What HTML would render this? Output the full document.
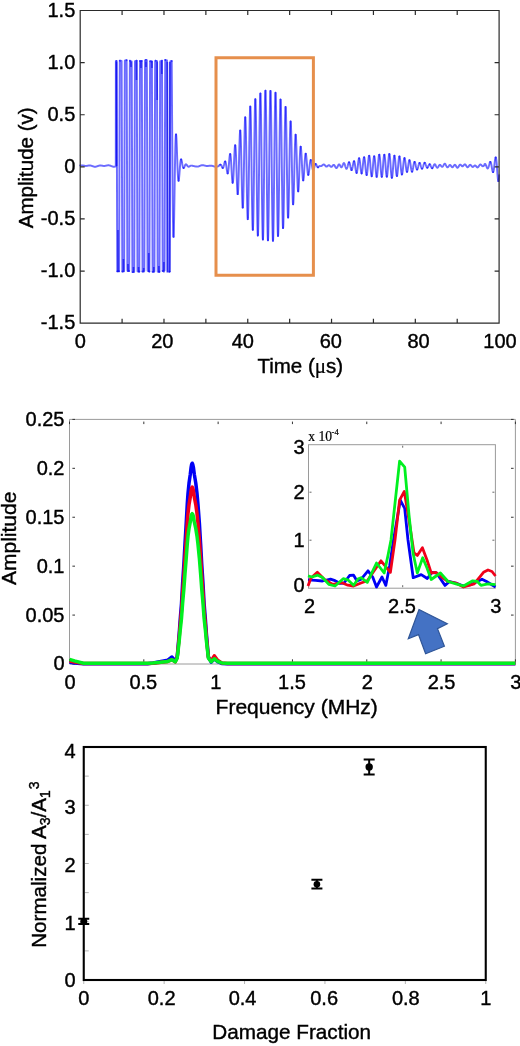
<!DOCTYPE html>
<html lang="en"><head><meta charset="utf-8"><title>Figure</title>
<style>html,body{margin:0;padding:0;background:#fff}svg{display:block}text{font-family:'Liberation Sans', Arial, Helvetica, sans-serif;fill:#000;stroke:#000;stroke-width:.4px}.s{font-family:'Liberation Serif', 'Times New Roman', serif;stroke-width:.2px}</style></head><body>
<svg width="520" height="1046" viewBox="0 0 520 1046">
<rect width="520" height="1046" fill="#fff"/>
<defs><filter id="bl" x="-2%" y="-2%" width="104%" height="104%"><feGaussianBlur stdDeviation="0.3"/></filter></defs>
<g id="p1">
<path d="M80.20 165.56 80.28 165.54 80.37 165.52 80.45 165.50 80.54 165.48 80.62 165.46 80.70 165.44 80.79 165.42 80.87 165.41 80.95 165.40 81.04 165.39 81.12 165.38 81.21 165.37 81.29 165.36 81.37 165.35 81.46 165.35 81.54 165.35 81.62 165.35 81.71 165.35 81.79 165.35 81.88 165.35 81.96 165.35 82.04 165.36 82.13 165.36 82.21 165.37 82.29 165.38 82.38 165.39 82.46 165.40 82.55 165.41 82.63 165.42 82.71 165.44 82.80 165.45 82.88 165.46 82.96 165.48 83.05 165.50 83.13 165.51 83.22 165.53 83.30 165.55 83.38 165.56 83.47 165.58 83.55 165.60 83.63 165.62 83.72 165.64 83.80 165.65 83.89 165.67 83.97 165.69 84.05 165.71 84.14 165.72 84.22 165.74 84.31 165.76 84.39 165.77 84.47 165.79 84.56 165.80 84.64 165.82 84.72 165.83 84.81 165.84 84.89 165.85 84.98 165.86 85.06 165.87 85.14 165.88 85.23 165.89 85.31 165.90 85.39 165.90 85.48 165.91 85.56 165.91 85.65 165.92 85.73 165.92 85.81 165.92 85.90 165.92 85.98 165.92 86.06 165.92 86.15 165.91 86.23 165.91 86.32 165.90 86.40 165.90 86.48 165.89 86.57 165.88 86.65 165.87 86.73 165.86 86.82 165.85 86.90 165.84 86.99 165.83 87.07 165.82 87.15 165.80 87.24 165.79 87.32 165.78 87.41 165.76 87.49 165.75 87.57 165.73 87.66 165.72 87.74 165.70 87.82 165.69 87.91 165.67 87.99 165.66 88.08 165.64 88.16 165.63 88.24 165.61 88.33 165.60 88.41 165.59 88.49 165.57 88.58 165.56 88.66 165.55 88.75 165.54 88.83 165.53 88.91 165.52 89.00 165.51 89.08 165.50 89.16 165.49 89.25 165.49 89.33 165.48 89.42 165.48 89.50 165.47 89.58 165.47 89.67 165.47 89.75 165.47 89.83 165.48 89.92 165.48 90.00 165.48 90.09 165.49 90.17 165.50 90.25 165.51 90.34 165.52 90.42 165.53 90.50 165.54 90.59 165.55 90.67 165.57 90.76 165.59 90.84 165.60 90.92 165.62 91.01 165.64 91.09 165.66 91.18 165.69 91.26 165.71 91.34 165.73 91.43 165.76 91.51 165.79 91.59 165.81 91.68 165.84 91.76 165.87 91.85 165.90 91.93 165.93 92.01 165.96 92.10 165.99 92.18 166.02 92.26 166.05 92.35 166.08 92.43 166.11 92.52 166.15 92.60 166.18 92.68 166.21 92.77 166.24 92.85 166.27 92.93 166.30 93.02 166.33 93.10 166.36 93.19 166.39 93.27 166.42 93.35 166.45 93.44 166.47 93.52 166.50 93.60 166.52 93.69 166.55 93.77 166.57 93.86 166.59 93.94 166.61 94.02 166.63 94.11 166.65 94.19 166.66 94.28 166.68 94.36 166.69 94.44 166.71 94.53 166.72 94.61 166.72 94.69 166.73 94.78 166.74 94.86 166.74 94.95 166.74 95.03 166.75 95.11 166.74 95.20 166.74 95.28 166.74 95.36 166.73 95.45 166.73 95.53 166.72 95.62 166.71 95.70 166.70 95.78 166.68 95.87 166.67 95.95 166.65 96.03 166.63 96.12 166.62 96.20 166.60 96.29 166.57 96.37 166.55 96.45 166.53 96.54 166.50 96.62 166.48 96.70 166.45 96.79 166.43 96.87 166.40 96.96 166.37 97.04 166.34 97.12 166.31 97.21 166.28 97.29 166.25 97.37 166.22 97.46 166.19 97.54 166.16 97.63 166.13 97.71 166.10 97.79 166.07 97.88 166.04 97.96 166.01 98.05 165.98 98.13 165.95 98.21 165.92 98.30 165.89 98.38 165.86 98.46 165.84 98.55 165.81 98.63 165.78 98.72 165.76 98.80 165.74 98.88 165.71 98.97 165.69 99.05 165.67 99.13 165.65 99.22 165.63 99.30 165.62 99.39 165.60 99.47 165.59 99.55 165.57 99.64 165.56 99.72 165.55 99.80 165.54 99.89 165.53 99.97 165.53 100.06 165.52 100.14 165.52 100.22 165.51 100.31 165.51 100.39 165.51 100.47 165.51 100.56 165.51 100.64 165.52 100.73 165.52 100.81 165.53 100.89 165.53 100.98 165.54 101.06 165.55 101.15 165.56 101.23 165.57 101.31 165.58 101.40 165.59 101.48 165.60 101.56 165.61 101.65 165.63 101.73 165.64 101.82 165.65 101.90 165.67 101.98 165.68 102.07 165.70 102.15 165.71 102.23 165.73 102.32 165.74 102.40 165.75 102.49 165.77 102.57 165.78 102.65 165.80 102.74 165.81 102.82 165.82 102.90 165.83 102.99 165.85 103.07 165.86 103.16 165.87 103.24 165.88 103.32 165.89 103.41 165.90 103.49 165.90 103.57 165.91 103.66 165.92 103.74 165.92 103.83 165.92 103.91 165.93 103.99 165.93 104.08 165.93 104.16 165.93 104.24 165.93 104.33 165.93 104.41 165.92 104.50 165.92 104.58 165.91 104.66 165.91 104.75 165.90 104.83 165.89 104.92 165.88 105.00 165.87 105.08 165.86 105.17 165.85 105.25 165.83 105.33 165.82 105.42 165.80 105.50 165.79 105.59 165.77 105.67 165.76 105.75 165.74 105.84 165.72 105.92 165.70 106.00 165.69 106.09 165.67 106.17 165.65 106.26 165.63 106.34 165.61 106.42 165.59 106.51 165.57 106.59 165.55 106.67 165.53 106.76 165.52 106.84 165.50 106.93 165.48 107.01 165.46 107.09 165.45 107.18 165.43 107.26 165.42 107.34 165.40 107.43 165.39 107.51 165.38 107.60 165.36 107.68 165.35 107.76 165.34 107.85 165.34 107.93 165.33 108.01 165.32 108.10 165.32 108.18 165.31 108.27 165.31 108.35 165.31 108.43 165.31 108.52 165.31 108.60 165.32 108.69 165.32 108.77 165.33 108.85 165.33 108.94 165.34 109.02 165.35 109.10 165.37 109.19 165.38 109.27 165.39 109.36 165.41 109.44 165.43 109.52 165.45 109.61 165.47 109.69 165.49 109.77 165.51 109.86 165.53 109.94 165.56 110.03 165.58 110.11 165.61 110.19 165.64 110.28 165.67 110.36 165.70 110.44 165.73 110.53 165.76 110.61 165.79 110.70 165.82 110.78 165.85 110.86 165.89 110.95 165.92 111.03 165.95 111.11 165.99 111.20 166.02 111.28 166.06 111.37 166.09 111.45 166.12 111.53 166.16 111.62 166.19 111.70 166.22 111.79 166.25 111.87 166.29 111.95 166.32 112.04 166.35 112.12 166.38 112.20 166.41 112.29 166.43 112.37 166.46 112.46 166.48 112.54 166.51 112.62 166.53 112.71 166.55 112.79 166.57 112.87 166.59 112.96 166.61 113.04 166.63 113.13 166.64 113.21 166.66 113.29 166.67 113.38 166.68 113.46 166.69 113.54 166.70 113.63 166.70 113.71 166.71 113.80 166.71 113.88 166.71M113.88 166.71 113.96 166.71 114.05 166.71 114.13 166.70 114.21 166.70 114.30 166.69 114.38 166.68 114.47 166.67 114.55 166.66 114.63 166.65 114.72 166.63 114.80 166.62 114.88 166.60 114.97 166.59 115.05 166.57 115.14 166.55 115.22 166.53 115.30 166.51 115.39 166.48 115.47 166.46 115.56 166.44 115.64 166.41 115.72 166.39 115.81 166.36 115.89 61.27 115.97 61.24 116.06 61.21 116.14 61.19 116.23 61.16 116.31 61.13 116.39 61.11 116.48 61.08M117.31 271.38 117.40 271.36 117.48 271.34 117.57 271.32 117.65 271.31 117.73 271.29 117.82 271.27 117.90 271.26 117.98 271.24 118.07 271.23 118.15 271.22 118.24 271.21 118.32 271.20 118.40 271.19 118.49 271.19 118.57 271.18 118.66 271.18 118.74 271.17 118.82 271.17 118.91 271.17 118.99 271.17M119.07 271.17 119.16 249.16 119.24 225.31 119.33 200.82 119.41 175.94 119.49 150.95 119.58 126.13 119.66 101.73 119.74 78.04 119.83 60.67M122.43 271.51 122.51 271.51 122.59 271.51 122.68 271.50 122.76 271.50 122.84 271.49 122.93 271.49 123.01 271.48 123.10 271.47 123.18 271.46 123.26 271.45 123.35 271.44 123.43 271.43 123.51 271.41 123.60 271.40 123.68 271.38 123.77 271.37 123.85 271.35 123.93 271.33 124.02 271.31 124.10 271.29 124.18 254.88 124.27 231.20 124.35 206.82 124.44 181.98 124.52 156.97 124.60 132.05 124.69 107.50 124.77 83.58 124.85 60.55 124.94 60.52 125.02 60.50 125.11 60.47 125.19 60.45 125.27 60.43 125.36 60.40 125.44 60.38 125.52 60.36 125.61 60.34 125.69 60.32 125.78 60.30 125.86 60.28 125.94 60.26 126.03 60.24 126.11 60.22 126.20 60.21 126.28 60.19 126.36 60.18 126.45 60.17 126.53 60.16 126.61 60.15M129.13 271.06 129.21 260.27 129.30 236.85 129.38 212.67 129.46 187.97 129.55 163.03 129.63 138.12 129.71 113.51 129.80 89.47 129.88 66.26 129.97 60.84M132.73 272.10 132.81 272.10 132.90 272.10 132.98 272.09 133.07 272.09 133.15 272.08 133.23 272.07 133.32 272.06 133.40 272.05 133.48 272.04 133.57 272.03 133.65 272.02 133.74 272.00 133.82 271.98 133.90 271.97 133.99 271.95 134.07 271.93 134.15 271.91 134.24 266.57 134.32 243.33 134.41 219.25 134.49 194.60 134.57 169.64 134.66 144.64 134.74 119.88 134.82 95.62 134.91 72.13 134.99 61.14 135.08 61.12 135.16 61.10 135.24 61.08 135.33 61.06 135.41 61.04 135.49 61.01 135.58 60.99 135.66 60.97 135.75 60.95 135.83 60.94 135.91 60.92 136.00 60.90 136.08 60.89 136.17 60.87 136.25 60.86 136.33 60.84 136.42 60.83 136.50 60.82 136.58 60.81 136.67 60.80M139.26 271.51 139.35 248.66 139.43 224.79 139.52 200.29 139.60 175.41 139.68 150.43 139.77 125.62 139.85 101.25 139.94 77.59 140.02 61.06M140.86 61.11 140.94 61.11 141.02 61.11 141.11 61.11 141.19 61.10 141.28 61.10 141.36 61.09 141.44 61.08 141.53 61.07 141.61 61.06 141.69 61.05 141.78 61.04M142.53 271.43 142.62 271.41 142.70 271.38 142.78 271.36 142.87 271.34 142.95 271.31 143.04 271.28 143.12 271.26 143.20 271.23 143.29 271.20 143.37 271.18 143.45 271.15 143.54 271.12 143.62 271.09 143.71 271.06 143.79 271.04 143.87 271.01 143.96 270.98 144.04 270.95 144.12 270.93 144.21 270.90 144.29 270.88 144.38 253.62 144.46 229.91 144.54 205.50 144.63 180.65 144.71 155.64 144.79 130.73 144.88 106.20 144.96 82.31 145.05 60.13 145.13 60.12 145.21 60.10 145.30 60.09 145.38 60.08 145.46 60.07 145.55 60.06 145.63 60.05 145.72 60.04 145.80 60.04 145.88 60.04 145.97 60.03M149.32 271.52 149.40 259.89 149.49 236.44 149.57 212.23 149.65 187.51 149.74 162.56 149.82 137.65 149.90 113.05 149.99 89.03 150.07 65.84 150.16 61.23M151.50 61.41 151.58 61.41 151.66 61.41 151.75 61.41 151.83 61.40M152.67 271.85 152.75 271.83 152.84 271.82 152.92 271.80 153.00 271.78 153.09 271.77 153.17 271.75 153.26 271.73 153.34 271.71 153.42 271.70 153.51 271.68 153.59 271.66 153.68 271.64 153.76 271.63 153.84 271.61 153.93 271.59 154.01 271.57 154.09 271.56 154.18 271.54 154.26 271.53 154.35 271.51 154.43 265.35 154.51 242.08 154.60 217.99 154.68 193.33 154.76 168.37 154.85 143.39 154.93 118.66 155.02 94.44 155.10 70.99 155.18 60.85 155.27 60.85 155.35 60.84 155.43 60.84 155.52 60.84 155.60 60.84 155.69 60.84M159.37 271.83 159.46 271.14 159.54 248.13 159.62 224.22 159.71 199.68 159.79 174.77 159.87 149.78 159.96 124.96 160.04 100.59 160.13 76.94 160.21 61.23 160.29 61.22 160.38 61.21 160.46 61.19 160.55 61.18 160.63 61.16 160.71 61.14 160.80 61.12 160.88 61.10 160.96 61.08 161.05 61.05 161.13 61.03 161.22 61.01 161.30 60.98 161.38 60.95 161.47 60.93 161.55 60.90 161.63 60.87 161.72 60.84 161.80 60.81 161.89 60.78 161.97 60.75M162.72 271.02 162.81 270.99 162.89 270.96 162.97 270.93 163.06 270.90 163.14 270.87 163.23 270.84 163.31 270.82 163.39 270.79 163.48 270.77 163.56 270.75 163.64 270.72 163.73 270.70 163.81 270.68 163.90 270.67 163.98 270.65 164.06 270.63 164.15 270.62 164.23 270.61 164.32 270.60 164.40 270.59 164.48 270.58 164.57 252.50 164.65 228.78 164.73 204.37 164.82 179.53 164.90 154.54 164.99 129.66 165.07 105.17 165.15 81.34 165.24 60.03M169.51 271.75 169.59 259.27 169.68 235.77 169.76 211.51 169.84 186.76 169.93 161.79 170.01 136.86 170.10 112.25 170.18 88.23 170.26 65.05 170.35 61.24 170.43 61.24 170.51 61.24 170.60 61.23 170.68 61.23 170.77 61.22 170.85 61.21 170.93 61.20 171.02 61.19 171.10 61.18 171.19 61.17 171.27 61.16 171.35 61.15 171.44 61.13 171.52 61.12 171.60 61.11 171.69 61.09M173.53 236.80 173.61 236.08 173.70 234.60 173.78 232.43 173.87 229.62 173.95 226.23 174.03 222.35 174.12 218.03 174.20 213.35 174.28 208.38 174.37 203.19 174.45 197.85 174.54 192.42 174.62 186.99 174.70 181.60 174.79 176.31 174.87 171.18 174.96 166.26 175.04 161.60 175.12 157.23 175.21 153.18 175.29 149.50 175.37 146.19 175.46 143.28 175.54 140.77 175.63 138.69 175.71 137.02 175.79 135.77 175.88 134.93 175.96 134.48 176.04 134.42M178.56 180.73 178.64 180.62 178.73 180.35 178.81 179.94 178.89 179.39 178.98 178.73 179.06 177.96 179.14 177.09 179.23 176.15 179.31 175.15 179.40 174.10 179.48 173.01 179.56 171.90 179.65 170.79 179.73 169.67 179.81 168.58 179.90 167.51 179.98 166.49 180.07 165.51 180.15 164.58 180.23 163.72 180.32 162.93 180.40 162.21 180.48 161.58 180.57 161.02 180.65 160.54 180.74 160.15 180.82 159.84 180.90 159.62 180.99 159.47 181.07 159.40M183.58 167.97 183.67 167.96 183.75 167.91 183.84 167.84 183.92 167.74 184.00 167.62 184.09 167.48 184.17 167.32 184.25 167.15 184.34 166.97 184.42 166.77 184.51 166.57 184.59 166.37 184.67 166.17 184.76 165.97 184.84 165.77 184.93 165.58 185.01 165.40 185.09 165.22 185.18 165.06 185.26 164.92 185.34 164.78 185.43 164.67 185.51 164.57 185.60 164.48 185.68 164.42 185.76 164.37 185.85 164.33 185.93 164.32M185.93 164.32 186.01 164.32 186.10 164.34 186.18 164.37 186.27 164.41 186.35 164.47 186.43 164.54 186.52 164.62 186.60 164.71 186.68 164.81 186.77 164.92 186.85 165.03 186.94 165.14 187.02 165.26 187.10 165.38 187.19 165.50 187.27 165.62 187.35 165.73 187.44 165.85 187.52 165.95 187.61 166.06 187.69 166.16 187.77 166.25 187.86 166.33 187.94 166.41 188.02 166.47 188.11 166.53 188.19 166.59 188.28 166.63 188.36 166.66 188.44 166.69 188.53 166.70 188.61 166.71 188.70 166.71 188.78 166.70 188.86 166.69 188.95 166.67 189.03 166.64 189.11 166.61 189.20 166.57 189.28 166.53 189.37 166.49 189.45 166.44 189.53 166.39 189.62 166.34 189.70 166.28 189.78 166.23 189.87 166.17 189.95 166.12 190.04 166.07 190.12 166.02 190.20 165.97 190.29 165.92 190.37 165.88 190.45 165.83 190.54 165.79 190.62 165.76 190.71 165.73 190.79 165.70 190.87 165.67 190.96 165.65 191.04 165.64 191.12 165.62 191.21 165.61 191.29 165.60 191.38 165.60 191.46 165.60 191.54 165.60 191.63 165.61 191.71 165.62 191.79 165.63 191.88 165.64 191.96 165.65 192.05 165.67 192.13 165.69 192.21 165.71 192.30 165.73 192.38 165.75 192.47 165.77 192.55 165.79 192.63 165.81 192.72 165.84 192.80 165.86 192.88 165.88 192.97 165.90 193.05 165.93 193.14 165.95 193.22 165.97 193.30 165.99 193.39 166.01 193.47 166.03 193.55 166.05 193.64 166.07 193.72 166.08 193.81 166.10 193.89 166.12 193.97 166.14 194.06 166.15 194.14 166.17 194.22 166.18 194.31 166.20 194.39 166.21 194.48 166.23 194.56 166.24 194.64 166.26 194.73 166.27 194.81 166.29 194.89 166.30 194.98 166.32 195.06 166.33 195.15 166.35 195.23 166.36 195.31 166.38 195.40 166.39 195.48 166.41 195.57 166.42 195.65 166.44 195.73 166.45 195.82 166.47 195.90 166.48 195.98 166.49 196.07 166.51 196.15 166.52 196.24 166.53 196.32 166.55 196.40 166.56 196.49 166.57 196.57 166.58 196.65 166.59 196.74 166.59 196.82 166.60 196.91 166.61 196.99 166.61 197.07 166.61 197.16 166.62 197.24 166.62 197.32 166.61 197.41 166.61 197.49 166.61 197.58 166.60 197.66 166.59 197.74 166.58 197.83 166.57 197.91 166.56 197.99 166.54 198.08 166.53 198.16 166.51 198.25 166.49 198.33 166.47 198.41 166.44 198.50 166.42 198.58 166.39 198.66 166.37 198.75 166.34 198.83 166.31 198.92 166.28 199.00 166.25 199.08 166.21 199.17 166.18 199.25 166.15 199.34 166.11 199.42 166.08 199.50 166.04 199.59 166.01 199.67 165.97 199.75 165.93 199.84 165.90 199.92 165.86 200.01 165.82 200.09 165.79 200.17 165.75 200.26 165.72 200.34 165.68 200.42 165.65 200.51 165.62 200.59 165.59 200.68 165.55 200.76 165.52 200.84 165.50 200.93 165.47 201.01 165.44 201.09 165.42 201.18 165.39 201.26 165.37 201.35 165.35 201.43 165.33 201.51 165.31 201.60 165.29 201.68 165.28 201.76 165.26 201.85 165.25 201.93 165.24 202.02 165.23 202.10 165.22 202.18 165.22 202.27 165.21 202.35 165.21 202.44 165.21 202.52 165.21 202.60 165.21 202.69 165.21 202.77 165.21 202.85 165.22 202.94 165.23 203.02 165.23 203.11 165.24 203.19 165.25 203.27 165.27 203.36 165.28 203.44 165.29 203.52 165.31 203.61 165.32 203.69 165.34 203.78 165.36 203.86 165.37 203.94 165.39 204.03 165.41 204.11 165.43 204.19 165.45 204.28 165.48 204.36 165.50 204.45 165.52 204.53 165.54 204.61 165.56 204.70 165.58 204.78 165.61 204.86 165.63 204.95 165.65 205.03 165.67 205.12 165.69 205.20 165.71 205.28 165.74 205.37 165.76 205.45 165.78 205.53 165.79 205.62 165.81 205.70 165.83 205.79 165.85 205.87 165.86 205.95 165.88 206.04 165.89 206.12 165.91 206.21 165.92 206.29 165.93 206.37 165.94 206.46 165.95 206.54 165.96 206.62 165.97 206.71 165.98 206.79 165.98 206.88 165.99 206.96 165.99 207.04 165.99 207.13 166.00 207.21 166.00 207.29 166.00 207.38 165.99 207.46 165.99 207.55 165.99 207.63 165.98 207.71 165.98 207.80 165.97 207.88 165.96 207.96 165.96 208.05 165.95 208.13 165.94 208.22 165.93 208.30 165.92 208.38 165.91 208.47 165.89 208.55 165.88 208.63 165.87 208.72 165.86 208.80 165.84 208.89 165.83 208.97 165.82 209.05 165.81 209.14 165.79 209.22 165.78 209.30 165.77 209.39 165.75 209.47 165.74 209.56 165.73 209.64 165.72 209.72 165.71 209.81 165.70 209.89 165.69 209.98 165.68 210.06 165.67 210.14 165.67 210.23 165.66 210.31 165.66 210.39 165.65 210.48 165.65 210.56 165.65 210.65 165.65 210.73 165.65 210.81 165.65 210.90 165.65 210.98 165.65 211.06 165.66 211.15 165.66 211.23 165.67 211.32 165.68 211.40 165.69 211.48 165.70 211.57 165.71 211.65 165.73 211.73 165.74 211.82 165.75 211.90 165.77 211.99 165.79 212.07 165.81 212.15 165.83 212.24 165.85 212.32 165.87 212.40 165.89 212.49 165.92 212.57 165.94 212.66 165.96 212.74 165.99 212.82 166.02 212.91 166.04 212.99 166.07 213.08 166.10 213.16 166.12 213.24 166.15 213.33 166.18 213.41 166.21 213.49 166.23 213.58 166.26 213.66 166.29 213.75 166.32 213.83 166.34 213.91 166.37 214.00 166.40 214.08 166.42 214.16 166.45 214.25 166.47 214.33 166.50 214.42 166.52 214.50 166.54 214.58 166.56 214.67 166.58 214.75 166.60 214.83 166.62 214.92 166.63 215.00 166.65 215.09 166.66 215.17 166.68 215.25 166.69 215.34 166.70 215.42 166.70 215.50 166.71 215.59 166.72 215.67 166.72 215.76 166.72 215.84 166.72 215.92 166.72 216.01 166.72 216.09 166.71 216.17 166.71 216.26 166.70 216.34 166.69 216.43 166.68 216.51 166.67 216.59 166.65 216.68 166.64 216.76 166.62 216.85 166.60 216.93 166.58 217.01 166.56 217.10 166.54 217.18 166.52 217.26 166.49 217.35 166.47 217.43 166.46 217.52 166.45 217.60 166.45 217.68 166.44 217.77 166.43 217.85 166.42 217.93 166.40 218.02 166.38 218.10 166.35 218.19 166.32 218.27 166.28 218.35 166.23 218.44 166.18 218.52 166.12 218.60 166.06 218.69 165.99 218.77 165.91 218.86 165.83 218.94 165.75 219.02 165.66 219.11 165.57 219.19 165.48 219.27 165.39 219.36 165.30 219.44 165.21 219.53 165.12 219.61 165.04 219.69 164.96 219.78 164.89 219.86 164.83 219.95 164.77 220.03 164.72 220.11 164.69 220.20 164.66 220.28 164.65 220.36 164.64M222.79 167.92 222.88 167.90 222.96 167.84 223.04 167.75 223.13 167.63 223.21 167.48 223.30 167.29 223.38 167.08 223.46 166.84 223.55 166.57 223.63 166.28 223.72 165.98 223.80 165.65 223.88 165.31 223.97 164.96 224.05 164.61 224.13 164.25 224.22 163.90 224.30 163.56 224.39 163.23 224.47 162.92 224.55 162.63 224.64 162.36 224.72 162.13 224.80 161.93 224.89 161.77 224.97 161.65 225.06 161.58 225.14 161.55M227.65 173.36 227.74 173.33 227.82 173.22 227.90 173.02 227.99 172.73 228.07 172.34 228.16 171.87 228.24 171.32 228.32 170.68 228.41 169.96 228.49 169.18 228.57 168.33 228.66 167.43 228.74 166.48 228.83 165.50 228.91 164.49 228.99 163.47 229.08 162.45 229.16 161.43 229.24 160.44 229.33 159.48 229.41 158.57 229.50 157.71 229.58 156.92 229.66 156.21 229.75 155.59 229.83 155.06 229.91 154.65 230.00 154.34 230.08 154.16 230.17 154.10M232.68 182.74 232.76 182.70 232.85 182.48 232.93 182.07 233.01 181.47 233.10 180.70 233.18 179.75 233.27 178.63 233.35 177.36 233.43 175.94 233.52 174.38 233.60 172.71 233.68 170.94 233.77 169.08 233.85 167.17 233.94 165.21 234.02 163.23 234.10 161.25 234.19 159.30 234.27 157.39 234.36 155.56 234.44 153.81 234.52 152.18 234.61 150.68 234.69 149.33 234.77 148.15 234.86 147.15 234.94 146.36 235.03 145.78 235.11 145.41 235.19 145.28M237.71 194.09 237.79 193.96 237.87 193.52 237.96 192.76 238.04 191.70 238.13 190.33 238.21 188.68 238.29 186.74 238.38 184.55 238.46 182.11 238.54 179.46 238.63 176.62 238.71 173.61 238.80 170.48 238.88 167.24 238.96 163.95 239.05 160.62 239.13 157.30 239.21 154.03 239.30 150.84 239.38 147.77 239.47 144.86 239.55 142.13 239.63 139.63 239.72 137.38 239.80 135.41 239.88 133.74 239.97 132.41 240.05 131.43 240.14 130.81 240.22 130.57M242.73 207.59 242.82 207.44 242.90 206.84 242.98 205.79 243.07 204.28 243.15 202.33 243.24 199.97 243.32 197.20 243.40 194.06 243.49 190.58 243.57 186.79 243.65 182.73 243.74 178.44 243.82 173.97 243.91 169.37 243.99 164.68 244.07 159.95 244.16 155.25 244.24 150.61 244.33 146.10 244.41 141.75 244.49 137.63 244.58 133.78 244.66 130.24 244.74 127.05 244.83 124.26 244.91 121.90 245.00 120.00 245.08 118.58 245.16 117.71 245.25 117.36M247.76 219.12 247.84 218.96 247.93 218.21 248.01 216.87 248.10 214.97 248.18 212.51 248.26 209.52 248.35 206.03 248.43 202.07 248.51 197.69 248.60 192.93 248.68 187.84 248.77 182.46 248.85 176.87 248.93 171.12 249.02 165.27 249.10 159.39 249.18 153.54 249.27 147.78 249.35 142.17 249.44 136.79 249.52 131.69 249.60 126.93 249.69 122.56 249.77 118.64 249.85 115.20 249.94 112.30 250.02 109.96 250.11 108.21 250.19 107.09 250.27 106.59M252.79 229.83 252.87 229.73 252.95 228.95 253.04 227.48 253.12 225.35 253.21 222.56 253.29 219.15 253.37 215.16 253.46 210.62 253.54 205.58 253.62 200.09 253.71 194.22 253.79 188.02 253.88 181.56 253.96 174.92 254.04 168.15 254.13 161.34 254.21 154.56 254.29 147.89 254.38 141.39 254.46 135.14 254.55 129.20 254.63 123.65 254.71 118.54 254.80 113.94 254.88 109.89 254.97 106.44 255.05 103.63 255.13 101.49 255.22 100.05 255.30 99.33M257.81 235.46 257.90 235.46 257.98 234.70 258.06 233.19 258.15 230.95 258.23 227.98 258.32 224.34 258.40 220.04 258.48 215.15 258.57 209.71 258.65 203.77 258.74 197.41 258.82 190.68 258.90 183.67 258.99 176.45 259.07 169.10 259.15 161.68 259.24 154.30 259.32 147.02 259.41 139.93 259.49 133.11 259.57 126.62 259.66 120.54 259.74 114.94 259.82 109.89 259.91 105.42 259.99 101.61 260.08 98.48 260.16 96.08 260.24 94.44 260.33 93.57 260.41 93.53M262.92 239.46 263.01 238.79 263.09 237.34 263.18 235.10 263.26 232.11 263.34 228.40 263.43 224.00 263.51 218.96 263.59 213.34 263.68 207.20 263.76 200.60 263.85 193.61 263.93 186.31 264.01 178.79 264.10 171.11 264.18 163.37 264.26 155.64 264.35 148.01 264.43 140.57 264.52 133.40 264.60 126.56 264.68 120.15 264.77 114.22 264.85 108.84 264.93 104.08 265.02 99.97 265.10 96.58 265.19 93.93 265.27 92.06 265.35 90.98 265.44 90.73M267.95 240.32 268.03 239.85 268.12 238.57 268.20 236.49 268.29 233.64 268.37 230.05 268.45 225.76 268.54 220.81 268.62 215.26 268.70 209.17 268.79 202.60 268.87 195.63 268.96 188.33 269.04 180.79 269.12 173.07 269.21 165.28 269.29 157.49 269.38 149.78 269.46 142.25 269.54 134.97 269.63 128.03 269.71 121.50 269.79 115.44 269.88 109.94 269.96 105.04 270.05 100.80 270.13 97.27 270.21 94.49 270.30 92.49 270.38 91.28 270.46 90.89M272.98 240.86 273.06 240.51 273.15 239.35 273.23 237.40 273.31 234.69 273.40 231.23 273.48 227.07 273.56 222.26 273.65 216.85 273.73 210.89 273.82 204.46 273.90 197.61 273.98 190.44 274.07 183.01 274.15 175.40 274.23 167.71 274.32 160.00 274.40 152.37 274.49 144.90 274.57 137.67 274.65 130.76 274.74 124.24 274.82 118.18 274.90 112.64 274.99 107.70 275.07 103.39 275.16 99.77 275.24 96.88 275.32 94.74 275.41 93.37 275.49 92.80M278.00 235.92 278.09 235.71 278.17 234.75 278.26 233.04 278.34 230.61 278.42 227.48 278.51 223.70 278.59 219.30 278.67 214.34 278.76 208.87 278.84 202.96 278.93 196.66 279.01 190.05 279.09 183.20 279.18 176.18 279.26 169.08 279.35 161.97 279.43 154.93 279.51 148.04 279.60 141.36 279.68 134.97 279.76 128.94 279.85 123.33 279.93 118.21 280.02 113.62 280.10 109.62 280.18 106.25 280.27 103.53 280.35 101.51 280.43 100.19 280.52 99.59M283.03 228.07 283.12 227.97 283.20 227.19 283.28 225.75 283.37 223.66 283.45 220.95 283.53 217.65 283.62 213.81 283.70 209.45 283.79 204.64 283.87 199.43 283.95 193.87 284.04 188.02 284.12 181.96 284.20 175.75 284.29 169.46 284.37 163.15 284.46 156.89 284.54 150.76 284.62 144.81 284.71 139.12 284.79 133.73 284.87 128.72 284.96 124.12 285.04 119.99 285.13 116.38 285.21 113.31 285.29 110.82 285.38 108.94 285.46 107.67 285.54 107.04M288.14 217.56 288.23 217.00 288.31 215.89 288.39 214.24 288.48 212.09 288.56 209.45 288.64 206.36 288.73 202.85 288.81 198.98 288.90 194.79 288.98 190.32 289.06 185.62 289.15 180.76 289.23 175.78 289.31 170.74 289.40 165.70 289.48 160.71 289.57 155.82 289.65 151.09 289.73 146.57 289.82 142.31 289.90 138.34 289.99 134.72 290.07 131.47 290.15 128.64 290.24 126.24 290.32 124.29 290.40 122.83 290.49 121.84 290.57 121.36M293.08 204.34 293.17 204.34 293.25 203.91 293.34 203.09 293.42 201.87 293.50 200.27 293.59 198.33 293.67 196.06 293.76 193.49 293.84 190.66 293.92 187.59 294.01 184.33 294.09 180.92 294.17 177.38 294.26 173.77 294.34 170.13 294.43 166.48 294.51 162.88 294.59 159.37 294.68 155.97 294.76 152.73 294.84 149.68 294.93 146.85 295.01 144.26 295.10 141.95 295.18 139.94 295.26 138.23 295.35 136.86 295.43 135.82 295.51 135.12 295.60 134.78 295.68 134.77M298.20 191.32 298.28 191.09 298.36 190.60 298.45 189.85 298.53 188.85 298.61 187.63 298.70 186.18 298.78 184.55 298.87 182.74 298.95 180.78 299.03 178.69 299.12 176.50 299.20 174.23 299.28 171.91 299.37 169.57 299.45 167.23 299.54 164.92 299.62 162.66 299.70 160.48 299.79 158.40 299.87 156.44 299.95 154.63 300.04 152.96 300.12 151.48 300.21 150.18 300.29 149.07 300.37 148.18 300.46 147.49 300.54 147.02 300.63 146.77 300.71 146.73M303.22 180.34 303.31 180.21 303.39 179.93 303.47 179.48 303.56 178.89 303.64 178.16 303.73 177.30 303.81 176.33 303.89 175.24 303.98 174.07 304.06 172.82 304.14 171.51 304.23 170.15 304.31 168.76 304.40 167.35 304.48 165.95 304.56 164.56 304.65 163.21 304.73 161.90 304.81 160.65 304.90 159.47 304.98 158.38 305.07 157.38 305.15 156.49 305.23 155.71 305.32 155.05 305.40 154.52 305.48 154.11 305.57 153.84 305.65 153.69 305.74 153.68M308.25 174.85 308.33 174.82 308.42 174.69 308.50 174.47 308.58 174.16 308.67 173.78 308.75 173.31 308.84 172.78 308.92 172.18 309.00 171.53 309.09 170.83 309.17 170.10 309.25 169.34 309.34 168.56 309.42 167.77 309.51 166.98 309.59 166.20 309.67 165.44 309.76 164.70 309.84 164.00 309.92 163.34 310.01 162.72 310.09 162.16 310.18 161.65 310.26 161.21 310.34 160.83 310.43 160.52 310.51 160.29 310.60 160.12 310.68 160.02 310.76 160.00M313.28 170.14 313.36 170.09 313.44 170.00 313.53 169.87 313.61 169.69 313.69 169.48 313.78 169.24 313.86 168.97 313.95 168.68 314.03 168.36 314.11 168.03 314.20 167.69 314.28 167.34 314.37 166.99 314.45 166.65 314.53 166.31 314.62 165.98 314.70 165.67 314.78 165.38 314.87 165.11 314.95 164.86 315.04 164.64 315.12 164.45 315.20 164.29 315.29 164.16 315.37 164.06 315.45 164.00 315.54 163.96 315.62 163.96M317.97 167.28 318.05 167.26 318.14 167.23 318.22 167.19 318.30 167.14 318.39 167.08 318.47 167.01 318.55 166.93 318.64 166.84 318.72 166.76 318.81 166.67 318.89 166.58 318.97 166.49 319.06 166.41 319.14 166.34 319.22 166.27 319.31 166.20 319.39 166.15 319.48 166.10 319.56 166.07 319.64 166.05 319.73 166.03 319.81 166.03 319.89 166.04 319.98 166.06 320.06 166.09 320.15 166.10 320.23 166.11 320.31 166.12 320.40 166.13 320.48 166.14 320.56 166.14 320.65 166.15 320.73 166.15 320.82 166.14 320.90 166.13 320.98 166.12 321.07 166.10 321.15 166.08 321.24 166.06 321.32 166.03 321.40 165.99 321.49 165.95 321.57 165.91 321.65 165.86 321.74 165.80 321.82 165.75 321.91 165.68 321.99 165.62 322.07 165.55 322.16 165.48 322.24 165.41 322.32 165.33 322.41 165.26 322.49 165.18 322.58 165.11 322.66 165.04 322.74 164.97 322.83 164.90 322.91 164.83 322.99 164.77 323.08 164.71 323.16 164.66 323.25 164.62 323.33 164.58 323.41 164.55 323.50 164.52 323.58 164.50 323.66 164.49 323.75 164.49 323.83 164.50 323.92 164.52 324.00 164.54 324.08 164.58 324.17 164.62 324.25 164.67 324.33 164.72 324.42 164.79 324.50 164.86 324.59 164.94 324.67 165.02 324.75 165.11 324.84 165.20 324.92 165.30 325.01 165.39 325.09 165.49 325.17 165.59 325.26 165.69 325.34 165.79 325.42 165.89 325.51 165.98 325.59 166.08 325.68 166.16 325.76 166.24 325.84 166.32 325.93 166.38 326.01 166.44 326.09 166.50 326.18 166.54 326.26 166.57 326.35 166.60 326.43 166.62 326.51 166.62 326.60 166.62 326.68 166.61 326.76 166.59 326.85 166.56 326.93 166.52 327.02 166.48 327.10 166.43 327.18 166.37 327.27 166.30 327.35 166.23 327.43 166.16 327.52 166.08 327.60 166.00 327.69 165.92 327.77 165.84 327.85 165.76 327.94 165.68 328.02 165.61 328.11 165.53 328.19 165.47 328.27 165.40 328.36 165.35 328.44 165.30 328.52 165.26 328.61 165.23 328.69 165.20 328.78 165.19 328.86 165.18 328.94 165.19 329.03 165.20 329.11 165.23 329.19 165.26 329.28 165.30 329.36 165.35 329.45 165.41 329.53 165.47 329.61 165.54 329.70 165.62 329.78 165.70 329.86 165.79 329.95 165.87 330.03 165.97 330.12 166.06 330.20 166.15 330.28 166.24 330.37 166.33 330.45 166.41 330.53 166.49 330.62 166.57 330.70 166.63 330.79 166.70 330.87 166.75 330.95 166.79 331.04 166.83 331.12 166.85 331.20 166.87 331.29 166.88 331.37 166.87 331.46 166.85 331.54 166.83 331.62 166.79 331.71 166.74 331.79 166.69 331.88 166.62 331.96 166.55 332.04 166.47 332.13 166.38 332.21 166.28 332.29 166.18 332.38 166.08 332.46 165.98 332.55 165.87 332.63 165.76 332.71 165.66 332.80 165.55 332.88 165.45 332.96 165.36 333.05 165.27 333.13 165.19 333.22 165.12 333.30 165.05 333.38 165.00 333.47 164.96 333.55 164.93 333.63 164.90 333.72 164.89 333.80 164.90 333.89 164.91 333.97 164.94 334.05 164.99 334.14 165.04 334.22 165.11 334.30 165.19 334.39 165.29 334.47 165.39 334.56 165.51 334.64 165.64 334.72 165.77 334.81 165.91 334.89 166.06 334.97 166.21 335.06 166.36 335.14 166.52 335.23 166.68 335.31 166.83 335.39 166.98 335.48 167.13 335.56 167.27 335.65 167.41 335.73 167.53 335.81 167.64 335.90 167.74 335.98 167.83 336.06 167.91 336.15 167.97 336.23 168.01 336.32 168.04 336.40 168.05 336.48 168.05 336.57 168.03 336.65 167.99 336.73 167.93 336.82 167.86 336.90 167.77 336.99 167.67 337.07 167.55 337.15 167.42 337.24 167.28 337.32 167.13 337.40 166.97 337.49 166.80 337.57 166.63 337.66 166.45 337.74 166.27 337.82 166.09 337.91 165.91 337.99 165.74 338.07 165.57 338.16 165.40 338.24 165.25 338.33 165.10 338.41 164.97 338.49 164.85 338.58 164.74 338.66 164.64 338.75 164.56 338.83 164.50 338.91 164.45 339.00 164.42 339.08 164.41 339.16 164.42 339.25 164.45 339.33 164.49 339.42 164.55 339.50 164.63 339.58 164.72 339.67 164.82 339.75 164.94 339.83 165.07 339.92 165.21 340.00 165.36 340.09 165.52 340.17 165.68 340.25 165.84 340.34 166.01 340.42 166.17 340.50 166.32 340.59 166.48 340.67 166.62 340.76 166.75 340.84 166.88 340.92 166.99 341.01 167.08 341.09 167.16 341.17 167.22 341.26 167.26 341.34 167.29 341.43 167.29 341.51 167.27 341.59 167.23 341.68 167.17 341.76 167.09 341.84 166.99 341.93 166.87 342.01 166.74 342.10 166.58 342.18 166.41 342.26 166.23 342.35 166.04 342.43 165.83 342.52 165.62 342.60 165.40 342.68 165.18 342.77 164.96 342.85 164.74 342.93 164.53 343.02 164.32 343.10 164.12 343.19 163.93 343.27 163.76 343.35 163.60 343.44 163.46 343.52 163.34 343.60 163.24 343.69 163.16 343.77 163.11 343.86 163.08 343.94 163.08 344.02 163.10 344.11 163.15 344.19 163.23 344.27 163.33 344.36 163.46 344.44 163.62 344.53 163.79 344.61 163.99 344.69 164.21 344.78 164.45 344.86 164.71 344.94 164.97 345.03 165.25 345.11 165.54 345.20 165.83 345.28 166.13 345.36 166.42 345.45 166.71 345.53 166.99 345.62 167.26 345.70 167.52 345.78 167.76 345.87 167.99 345.95 168.19 346.03 168.37 346.12 168.52 346.20 168.65 346.29 168.75 346.37 168.81 346.45 168.85 346.54 168.85 346.62 168.82 346.70 168.76 346.79 168.66 346.87 168.54 346.96 168.38 347.04 168.19 347.12 167.98 347.21 167.74 347.29 167.49 347.37 167.21 347.46 166.91 347.54 166.60 347.63 166.28 347.71 165.95 347.79 165.61 347.88 165.28 347.96 164.95 348.04 164.63 348.13 164.32 348.21 164.02 348.30 163.74 348.38 163.48 348.46 163.24 348.55 163.02 348.63 162.83 348.71 162.66 348.80 162.53 348.88 162.43 348.97 162.37 349.05 162.34M351.56 170.06 351.65 170.05 351.73 169.99 351.81 169.88 351.90 169.73 351.98 169.53 352.07 169.29 352.15 169.01 352.23 168.70 352.32 168.35 352.40 167.97 352.49 167.56 352.57 167.13 352.65 166.69 352.74 166.23 352.82 165.76 352.90 165.30 352.99 164.83 353.07 164.38 353.16 163.94 353.24 163.52 353.32 163.12 353.41 162.76 353.49 162.42 353.57 162.13 353.66 161.88 353.74 161.67 353.83 161.52 353.91 161.40 353.99 161.34 354.08 161.34M356.59 172.91 356.67 172.85 356.76 172.73 356.84 172.53 356.93 172.26 357.01 171.92 357.09 171.52 357.18 171.06 357.26 170.54 357.34 169.97 357.43 169.35 357.51 168.69 357.60 168.00 357.68 167.28 357.76 166.54 357.85 165.79 357.93 165.03 358.01 164.28 358.10 163.54 358.18 162.82 358.27 162.13 358.35 161.47 358.43 160.85 358.52 160.29 358.60 159.78 358.68 159.33 358.77 158.96 358.85 158.65 358.94 158.43 359.02 158.30 359.10 158.24M361.62 173.39 361.70 173.35 361.78 173.22 361.87 173.00 361.95 172.71 362.04 172.33 362.12 171.88 362.20 171.35 362.29 170.76 362.37 170.11 362.45 169.41 362.54 168.66 362.62 167.88 362.71 167.06 362.79 166.23 362.87 165.38 362.96 164.54 363.04 163.70 363.13 162.88 363.21 162.08 363.29 161.32 363.38 160.61 363.46 159.94 363.54 159.34 363.63 158.80 363.71 158.34 363.80 157.95 363.88 157.65 363.96 157.43 364.05 157.30 364.13 157.27M366.64 174.95 366.73 174.90 366.81 174.74 366.90 174.49 366.98 174.14 367.06 173.70 367.15 173.17 367.23 172.55 367.31 171.86 367.40 171.10 367.48 170.27 367.57 169.39 367.65 168.47 367.73 167.51 367.82 166.53 367.90 165.53 367.98 164.53 368.07 163.53 368.15 162.56 368.24 161.61 368.32 160.71 368.40 159.85 368.49 159.05 368.57 158.32 368.65 157.67 368.74 157.10 368.82 156.62 368.91 156.25 368.99 155.97 369.07 155.80 369.16 155.73M371.75 176.19 371.84 176.09 371.92 175.88 372.01 175.56 372.09 175.14 372.17 174.62 372.26 174.01 372.34 173.31 372.42 172.53 372.51 171.69 372.59 170.78 372.68 169.83 372.76 168.84 372.84 167.81 372.93 166.77 373.01 165.72 373.09 164.68 373.18 163.66 373.26 162.66 373.35 161.71 373.43 160.80 373.51 159.96 373.60 159.18 373.68 158.48 373.77 157.87 373.85 157.35 373.93 156.94 374.02 156.63 374.10 156.42 374.18 156.33M376.70 176.84 376.78 176.80 376.86 176.65 376.95 176.38 377.03 176.01 377.12 175.52 377.20 174.93 377.28 174.25 377.37 173.47 377.45 172.61 377.54 171.68 377.62 170.68 377.70 169.63 377.79 168.54 377.87 167.42 377.95 166.28 378.04 165.13 378.12 164.00 378.21 162.87 378.29 161.78 378.37 160.73 378.46 159.74 378.54 158.80 378.62 157.95 378.71 157.17 378.79 156.49 378.88 155.90 378.96 155.43 379.04 155.06 379.13 154.81 379.21 154.68 379.29 154.67M381.81 176.74 381.89 176.66 381.98 176.46 382.06 176.14 382.14 175.70 382.23 175.16 382.31 174.52 382.39 173.78 382.48 172.95 382.56 172.05 382.65 171.08 382.73 170.05 382.81 168.97 382.90 167.86 382.98 166.72 383.06 165.58 383.15 164.43 383.23 163.30 383.32 162.20 383.40 161.14 383.48 160.13 383.57 159.18 383.65 158.30 383.73 157.50 383.82 156.79 383.90 156.18 383.99 155.67 384.07 155.27 384.15 154.99 384.24 154.83 384.32 154.78M386.83 176.68 386.92 176.60 387.00 176.40 387.09 176.08 387.17 175.64 387.25 175.10 387.34 174.44 387.42 173.69 387.51 172.85 387.59 171.92 387.67 170.92 387.76 169.86 387.84 168.76 387.92 167.61 388.01 166.44 388.09 165.26 388.18 164.08 388.26 162.91 388.34 161.77 388.43 160.66 388.51 159.61 388.59 158.62 388.68 157.71 388.76 156.88 388.85 156.14 388.93 155.50 389.01 154.98 389.10 154.56 389.18 154.27 389.26 154.10 389.35 154.06M391.86 177.74 391.95 177.70 392.03 177.55 392.11 177.27 392.20 176.88 392.28 176.37 392.36 175.76 392.45 175.04 392.53 174.24 392.62 173.36 392.70 172.40 392.78 171.38 392.87 170.31 392.95 169.20 393.03 168.07 393.12 166.92 393.20 165.77 393.29 164.63 393.37 163.51 393.45 162.43 393.54 161.39 393.62 160.42 393.70 159.51 393.79 158.68 393.87 157.94 393.96 157.29 394.04 156.75 394.12 156.31 394.21 155.98 394.29 155.77 394.38 155.67M396.89 175.96 396.97 175.90 397.06 175.73 397.14 175.46 397.22 175.08 397.31 174.61 397.39 174.04 397.47 173.39 397.56 172.66 397.64 171.86 397.73 170.99 397.81 170.08 397.89 169.12 397.98 168.14 398.06 167.13 398.15 166.11 398.23 165.10 398.31 164.10 398.40 163.12 398.48 162.18 398.56 161.28 398.65 160.43 398.73 159.65 398.82 158.94 398.90 158.31 398.98 157.76 399.07 157.30 399.15 156.94 399.23 156.67 399.32 156.51 399.40 156.45M401.92 174.41 402.00 174.38 402.08 174.26 402.17 174.06 402.25 173.76 402.33 173.38 402.42 172.93 402.50 172.40 402.59 171.80 402.67 171.15 402.75 170.44 402.84 169.68 402.92 168.90 403.00 168.08 403.09 167.24 403.17 166.40 403.26 165.56 403.34 164.72 403.42 163.91 403.51 163.12 403.59 162.36 403.67 161.65 403.76 160.98 403.84 160.37 403.93 159.83 404.01 159.35 404.09 158.94 404.18 158.61 404.26 158.36 404.34 158.19 404.43 158.10 404.51 158.09M407.03 171.83 407.11 171.77 407.19 171.64 407.28 171.44 407.36 171.18 407.44 170.86 407.53 170.48 407.61 170.05 407.70 169.57 407.78 169.06 407.86 168.51 407.95 167.93 408.03 167.33 408.11 166.72 408.20 166.10 408.28 165.48 408.37 164.86 408.45 164.26 408.53 163.69 408.62 163.13 408.70 162.62 408.79 162.14 408.87 161.70 408.95 161.31 409.04 160.98 409.12 160.70 409.20 160.48 409.29 160.32 409.37 160.23 409.46 160.20M412.05 171.63 412.14 171.57 412.22 171.47 412.30 171.31 412.39 171.10 412.47 170.84 412.56 170.54 412.64 170.20 412.72 169.81 412.81 169.40 412.89 168.96 412.97 168.50 413.06 168.02 413.14 167.52 413.23 167.02 413.31 166.52 413.39 166.03 413.48 165.54 413.56 165.07 413.64 164.61 413.73 164.18 413.81 163.78 413.90 163.41 413.98 163.07 414.06 162.78 414.15 162.52 414.23 162.31 414.31 162.14 414.40 162.02 414.48 161.95 414.57 161.92M417.08 169.55 417.16 169.53 417.25 169.47 417.33 169.38 417.41 169.25 417.50 169.08 417.58 168.89 417.67 168.66 417.75 168.40 417.83 168.12 417.92 167.82 418.00 167.50 418.08 167.17 418.17 166.83 418.25 166.48 418.34 166.13 418.42 165.79 418.50 165.44 418.59 165.11 418.67 164.79 418.75 164.49 418.84 164.21 418.92 163.94 419.01 163.71 419.09 163.50 419.17 163.32 419.26 163.18 419.34 163.07 419.43 162.99 419.51 162.94 419.59 162.93M422.02 168.64 422.11 168.63 422.19 168.59 422.27 168.52 422.36 168.42 422.44 168.30 422.53 168.14 422.61 167.96 422.69 167.76 422.78 167.54 422.86 167.30 422.94 167.04 423.03 166.77 423.11 166.49 423.20 166.20 423.28 165.91 423.36 165.62 423.45 165.33 423.53 165.04 423.61 164.76 423.70 164.49 423.78 164.24 423.87 164.00 423.95 163.78 424.03 163.58 424.12 163.40 424.20 163.24 424.28 163.11 424.37 163.00 424.45 162.92 424.54 162.86 424.62 162.84 424.70 162.83M427.30 167.70 427.38 167.69 427.47 167.65 427.55 167.60 427.64 167.52 427.72 167.42 427.80 167.31 427.89 167.18 427.97 167.03 428.05 166.87 428.14 166.70 428.22 166.52 428.31 166.34 428.39 166.15 428.47 165.96 428.56 165.77 428.64 165.58 428.72 165.40 428.81 165.23 428.89 165.06 428.98 164.91 429.06 164.77 429.14 164.64 429.23 164.53 429.31 164.44 429.40 164.37 429.48 164.32 429.56 164.29 429.65 164.28M432.16 168.18 432.24 168.17 432.33 168.13 432.41 168.08 432.49 168.01 432.58 167.91 432.66 167.80 432.75 167.68 432.83 167.54 432.91 167.38 433.00 167.21 433.08 167.04 433.17 166.85 433.25 166.66 433.33 166.46 433.42 166.26 433.50 166.07 433.58 165.87 433.67 165.68 433.75 165.49 433.84 165.31 433.92 165.14 434.00 164.98 434.09 164.84 434.17 164.71 434.25 164.59 434.34 164.49 434.42 164.41 434.51 164.35 434.59 164.30 434.67 164.27 434.76 164.27 434.84 164.28 434.92 164.31 435.01 164.36 435.09 164.42 435.18 164.50 435.26 164.59 435.34 164.71 435.43 164.83 435.51 164.96 435.59 165.11 435.68 165.27 435.76 165.43 435.85 165.60 435.93 165.77 436.01 165.95 436.10 166.12 436.18 166.30 436.26 166.47 436.35 166.63 436.43 166.79 436.52 166.94 436.60 167.08 436.68 167.21 436.77 167.33 436.85 167.43 436.94 167.52 437.02 167.59 437.10 167.65 437.19 167.69 437.27 167.72 437.35 167.72 437.44 167.71 437.52 167.69 437.61 167.64 437.69 167.59 437.77 167.52 437.86 167.43 437.94 167.33 438.02 167.22 438.11 167.10 438.19 166.97 438.28 166.84 438.36 166.70 438.44 166.55 438.53 166.40 438.61 166.25 438.69 166.10 438.78 165.96 438.86 165.81 438.95 165.68 439.03 165.55 439.11 165.42 439.20 165.31 439.28 165.21 439.36 165.11 439.45 165.03 439.53 164.97 439.62 164.91 439.70 164.88 439.78 164.85 439.87 164.84 439.95 164.84 440.04 164.86 440.12 164.88 440.20 164.92 440.29 164.97 440.37 165.04 440.45 165.11 440.54 165.19 440.62 165.28 440.71 165.38 440.79 165.48 440.87 165.59 440.96 165.70 441.04 165.82 441.12 165.93 441.21 166.04 441.29 166.15 441.38 166.26 441.46 166.36 441.54 166.45 441.63 166.54 441.71 166.62 441.79 166.68 441.88 166.73 441.96 166.78 442.05 166.80 442.13 166.82 442.21 166.82 442.30 166.81 442.38 166.78 442.46 166.74 442.55 166.68 442.63 166.61 442.72 166.53 442.80 166.44 442.88 166.33 442.97 166.21 443.05 166.08 443.13 165.95 443.22 165.81 443.30 165.66 443.39 165.51 443.47 165.36 443.55 165.20 443.64 165.05 443.72 164.89 443.81 164.75 443.89 164.60 443.97 164.47 444.06 164.34 444.14 164.22 444.22 164.11 444.31 164.02 444.39 163.94 444.48 163.87 444.56 163.81 444.64 163.78 444.73 163.76 444.81 163.75 444.89 163.76 444.98 163.79 445.06 163.83 445.15 163.89 445.23 163.97 445.31 164.06 445.40 164.16 445.48 164.28 445.56 164.41 445.65 164.55 445.73 164.70 445.82 164.86 445.90 165.02 445.98 165.19 446.07 165.36 446.15 165.53 446.23 165.71 446.32 165.88 446.40 166.04 446.49 166.21 446.57 166.36 446.65 166.51 446.74 166.65 446.82 166.78 446.91 166.89 446.99 167.00 447.07 167.09 447.16 167.16 447.24 167.23 447.32 167.27 447.41 167.30 447.49 167.32 447.58 167.32 447.66 167.30 447.74 167.27 447.83 167.23 447.91 167.17 447.99 167.10 448.08 167.02 448.16 166.93 448.25 166.83 448.33 166.72 448.41 166.60 448.50 166.48 448.58 166.36 448.66 166.23 448.75 166.10 448.83 165.97 448.92 165.85 449.00 165.73 449.08 165.61 449.17 165.50 449.25 165.40 449.33 165.31 449.42 165.22 449.50 165.15 449.59 165.09 449.67 165.04 449.75 165.00 449.84 164.98 449.92 164.97 450.00 164.97 450.09 164.99 450.17 165.02 450.26 165.06 450.34 165.11 450.42 165.18 450.51 165.26 450.59 165.34 450.68 165.44 450.76 165.54 450.84 165.65 450.93 165.77 451.01 165.89 451.09 166.01 451.18 166.13 451.26 166.25 451.35 166.37 451.43 166.49 451.51 166.60 451.60 166.71 451.68 166.81 451.76 166.90 451.85 166.98 451.93 167.05 452.02 167.11 452.10 167.16 452.18 167.20 452.27 167.22 452.35 167.23 452.43 167.23 452.52 167.21 452.60 167.18 452.69 167.14 452.77 167.09 452.85 167.02 452.94 166.94 453.02 166.86 453.10 166.76 453.19 166.66 453.27 166.54 453.36 166.43 453.44 166.30 453.52 166.18 453.61 166.05 453.69 165.92 453.78 165.80 453.86 165.67 453.94 165.55 454.03 165.44 454.11 165.33 454.19 165.23 454.28 165.14 454.36 165.06 454.45 164.99 454.53 164.93 454.61 164.89 454.70 164.86 454.78 164.84 454.86 164.83 454.95 164.84 455.03 164.87 455.12 164.91 455.20 164.96 455.28 165.02 455.37 165.10 455.45 165.19 455.53 165.29 455.62 165.40 455.70 165.52 455.79 165.65 455.87 165.78 455.95 165.92 456.04 166.07 456.12 166.21 456.20 166.36 456.29 166.50 456.37 166.65 456.46 166.79 456.54 166.92 456.62 167.05 456.71 167.17 456.79 167.28 456.87 167.38 456.96 167.47 457.04 167.55 457.13 167.62 457.21 167.67 457.29 167.71 457.38 167.74 457.46 167.74 457.55 167.74 457.63 167.72 457.71 167.69 457.80 167.64 457.88 167.57 457.96 167.50 458.05 167.41 458.13 167.31 458.22 167.20 458.30 167.08 458.38 166.96 458.47 166.82 458.55 166.68 458.63 166.54 458.72 166.39 458.80 166.24 458.89 166.09 458.97 165.95 459.05 165.80 459.14 165.66 459.22 165.53 459.30 165.40 459.39 165.28 459.47 165.17 459.56 165.07 459.64 164.97 459.72 164.89 459.81 164.83 459.89 164.77 459.97 164.73 460.06 164.70 460.14 164.68 460.23 164.67 460.31 164.68 460.39 164.70 460.48 164.73 460.56 164.77 460.64 164.82 460.73 164.88 460.81 164.95 460.90 165.03 460.98 165.11 461.06 165.20 461.15 165.29 461.23 165.38 461.32 165.48 461.40 165.57 461.48 165.67 461.57 165.76 461.65 165.85 461.73 165.93 461.82 166.01 461.90 166.08 461.99 166.14 462.07 166.19 462.15 166.24 462.24 166.27 462.32 166.29 462.40 166.31 462.49 166.31 462.57 166.30 462.66 166.28 462.74 166.25 462.82 166.20 462.91 166.15 462.99 166.09 463.07 166.02 463.16 165.94 463.24 165.85 463.33 165.76 463.41 165.66 463.49 165.56 463.58 165.46 463.66 165.35 463.74 165.25 463.83 165.14 463.91 165.04 464.00 164.94 464.08 164.84 464.16 164.75 464.25 164.67 464.33 164.59 464.42 164.52 464.50 164.47 464.58 164.42 464.67 164.39 464.75 164.36 464.83 164.35 464.92 164.35 465.00 164.36 465.09 164.39 465.17 164.43 465.25 164.48 465.34 164.54 465.42 164.62 465.50 164.70 465.59 164.80 465.67 164.90 465.76 165.02 465.84 165.14 465.92 165.26 466.01 165.40 466.09 165.53 466.17 165.67 466.26 165.81 466.34 165.95 466.43 166.08 466.51 166.22 466.59 166.35 466.68 166.48 466.76 166.59 466.84 166.71 466.93 166.81 467.01 166.90 467.10 166.98 467.18 167.06 467.26 167.12 467.35 167.16 467.43 167.20 467.51 167.22 467.60 167.23 467.68 167.22 467.77 167.20 467.85 167.17 467.93 167.13 468.02 167.08 468.10 167.01 468.19 166.93 468.27 166.85 468.35 166.75 468.44 166.65 468.52 166.54 468.60 166.43 468.69 166.31 468.77 166.19 468.86 166.07 468.94 165.95 469.02 165.83 469.11 165.71 469.19 165.59 469.27 165.48 469.36 165.38 469.44 165.28 469.53 165.19 469.61 165.11 469.69 165.04 469.78 164.98 469.86 164.93 469.94 164.89 470.03 164.86 470.11 164.85 470.20 164.84 470.28 164.85 470.36 164.87 470.45 164.90 470.53 164.94 470.61 165.00 470.70 165.06 470.78 165.13 470.87 165.21 470.95 165.30 471.03 165.39 471.12 165.49 471.20 165.60 471.29 165.70 471.37 165.81 471.45 165.92 471.54 166.03 471.62 166.13 471.70 166.24 471.79 166.34 471.87 166.43 471.96 166.52 472.04 166.60 472.12 166.68 472.21 166.74 472.29 166.80 472.37 166.85 472.46 166.89 472.54 166.92 472.63 166.94 472.71 166.94 472.79 166.94 472.88 166.93 472.96 166.91 473.04 166.88 473.13 166.84 473.21 166.79 473.30 166.73 473.38 166.67 473.46 166.60 473.55 166.53 473.63 166.45 473.71 166.37 473.80 166.29 473.88 166.20 473.97 166.12 474.05 166.04 474.13 165.96 474.22 165.88 474.30 165.81 474.38 165.75 474.47 165.69 474.55 165.63 474.64 165.59 474.72 165.55 474.80 165.53 474.89 165.51 474.97 165.50 475.06 165.50 475.14 165.52 475.22 165.54 475.31 165.57 475.39 165.61 475.47 165.66 475.56 165.72 475.64 165.79 475.73 165.86 475.81 165.94 475.89 166.03 475.98 166.12 476.06 166.22 476.14 166.32 476.23 166.42 476.31 166.52 476.40 166.62 476.48 166.72 476.56 166.82 476.65 166.91 476.73 167.00 476.81 167.08 476.90 167.16 476.98 167.23 477.07 167.29 477.15 167.34 477.23 167.37 477.32 167.40 477.40 167.42 477.48 167.43 477.57 167.42 477.65 167.41 477.74 167.38 477.82 167.34 477.90 167.28 477.99 167.22 478.07 167.15 478.15 167.06 478.24 166.97 478.32 166.87 478.41 166.76 478.49 166.64 478.57 166.52 478.66 166.39 478.74 166.26 478.83 166.13 478.91 166.00 478.99 165.86 479.08 165.73 479.16 165.60 479.24 165.47 479.33 165.35 479.41 165.23 479.50 165.12 479.58 165.01 479.66 164.92 479.75 164.83 479.83 164.75 479.91 164.68 480.00 164.63 480.08 164.58 480.17 164.54 480.25 164.52 480.33 164.51 480.42 164.51 480.50 164.52 480.58 164.54 480.67 164.57 480.75 164.61 480.84 164.66 480.92 164.71 481.00 164.78 481.09 164.85 481.17 164.93 481.25 165.01 481.34 165.10 481.42 165.18 481.51 165.27 481.59 165.37 481.67 165.46 481.76 165.55 481.84 165.63 481.93 165.72 482.01 165.79 482.09 165.87 482.18 165.94 482.26 166.00 482.34 166.05 482.43 166.10 482.51 166.14 482.60 166.17 482.68 166.19 482.76 166.20 482.85 166.20 482.93 166.20 483.01 166.18 483.10 166.16 483.18 166.13 483.27 166.10 483.35 166.05 483.43 166.00 483.52 165.95 483.60 165.89 483.68 165.83 483.77 165.76 483.85 165.69 483.94 165.62 484.02 165.55 484.10 165.48 484.19 165.42 484.27 165.35 484.35 165.29 484.44 165.24 484.52 164.30 484.61 164.21 484.69 164.13 484.77 164.07 484.86 164.03 484.94 164.00 485.02 163.99 485.11 164.00 485.19 164.03 485.28 164.08 485.36 164.14 485.44 164.23 485.53 164.33 485.61 164.46 485.70 164.60 485.78 164.75 485.86 164.92 485.95 165.10 486.03 165.30 486.11 165.50 486.20 165.71 486.28 165.93 486.37 166.15 486.45 166.37 486.53 166.60 486.62 166.82 486.70 167.03 486.78 167.24 486.87 167.44 486.95 167.63 487.04 167.80 487.12 167.95 487.20 168.09 487.29 168.21 487.37 168.31 487.45 168.38 487.54 168.43 487.62 168.45M487.62 168.45 487.71 168.45 487.79 168.42 487.87 168.37 487.96 168.28 488.04 168.17 488.12 168.04 488.21 167.87 488.29 167.69 488.38 167.48 488.46 167.24 488.54 166.99 488.63 166.72 488.71 166.44 488.80 166.14 488.88 165.83 488.96 165.51 489.05 165.19 489.13 164.86 489.21 164.54 489.30 164.23 489.38 163.92 489.47 163.62 489.55 163.33 489.63 163.07 489.72 162.82 489.80 162.60 489.88 162.41 489.97 162.24 490.05 162.11 490.14 162.01 490.22 161.95 490.30 161.92M493.07 172.09 493.15 172.05 493.24 171.94 493.32 171.77 493.40 171.55 493.49 171.26 493.57 170.92 493.65 170.52 493.74 170.07 493.82 169.57 493.91 169.02 493.99 168.43 494.07 167.80 494.16 167.14 494.24 166.45 494.32 165.75 494.41 165.02 494.49 164.30 494.58 163.57 494.66 162.85 494.74 162.14 494.83 161.46 494.91 160.80 494.99 160.19 495.08 159.62 495.16 159.10 495.25 158.64 495.33 158.24 495.41 157.92 495.50 157.67 495.58 157.50 495.67 157.42M498.35 181.08 498.43 181.04 498.51 180.85 498.60 180.50 498.68 180.00 498.76 179.34 498.85 178.52 498.93 177.55 499.02 176.44 499.10 175.18" fill="none" stroke="#0000ff" stroke-opacity="0.58" stroke-width="1.95" stroke-linejoin="round" stroke-linecap="round" filter="url(#bl)"/>
<path d="M116.48 61.08 116.56 62.41 116.64 85.45 116.73 109.37 116.81 133.90 116.90 158.79 116.98 183.75 117.06 208.52 117.15 232.83 117.23 256.41 117.31 271.38M118.99 271.17 119.07 271.17M119.83 60.67 119.91 60.68 120.00 60.69 120.08 60.70 120.16 60.71 120.25 60.72 120.33 60.74 120.41 60.75 120.50 60.76 120.58 60.77 120.67 60.79 120.75 60.80 120.83 60.81 120.92 60.82 121.00 60.84 121.08 60.85 121.17 60.86 121.25 60.87 121.34 60.88 121.42 60.89 121.50 60.90 121.59 60.91 121.67 79.70 121.75 103.46 121.84 127.90 121.92 152.76 122.01 177.76 122.09 202.63 122.17 227.10 122.26 250.91 122.34 271.51 122.43 271.51M126.61 60.15 126.70 73.32 126.78 96.87 126.87 121.16 126.95 145.93 127.03 170.91 127.12 195.83 127.20 220.41 127.28 244.40 127.37 267.53 127.45 270.67 127.54 270.68 127.62 270.69 127.70 270.70 127.79 270.71 127.87 270.72 127.95 270.73 128.04 270.75 128.12 270.77 128.21 270.78 128.29 270.80 128.37 270.82 128.46 270.85 128.54 270.87 128.62 270.89 128.71 270.92 128.79 270.95 128.88 270.97 128.96 271.00 129.04 271.03 129.13 271.06M129.97 60.84 130.05 60.88 130.13 60.91 130.22 60.95 130.30 60.98 130.38 61.02 130.47 61.05 130.55 61.08 130.64 61.11 130.72 61.14 130.80 61.17 130.89 61.20 130.97 61.23 131.05 61.26 131.14 61.29 131.22 61.31 131.31 61.34 131.39 61.36 131.47 61.38 131.56 61.41 131.64 61.43 131.72 69.09 131.81 92.45 131.89 116.60 131.98 141.30 132.06 166.27 132.14 191.24 132.23 215.94 132.31 240.11 132.39 263.47 132.48 272.09 132.56 272.10 132.65 272.10 132.73 272.10M136.67 60.80 136.75 62.96 136.84 86.06 136.92 110.02 137.00 134.59 137.09 159.51 137.17 184.49 137.25 209.27 137.34 233.58 137.42 257.15 137.51 271.31 137.59 271.31 137.67 271.32 137.76 271.32 137.84 271.33 137.92 271.33 138.01 271.34 138.09 271.35 138.18 271.36 138.26 271.36 138.34 271.37 138.43 271.39 138.51 271.40 138.59 271.41 138.68 271.42 138.76 271.43 138.85 271.44 138.93 271.46 139.01 271.47 139.10 271.48 139.18 271.50 139.26 271.51M140.02 61.06 140.10 61.07 140.19 61.08 140.27 61.08 140.35 61.09 140.44 61.10 140.52 61.10 140.61 61.11 140.69 61.11 140.77 61.11 140.86 61.11M141.78 61.04 141.86 80.65 141.95 104.42 142.03 128.86 142.11 153.70 142.20 178.68 142.28 203.51 142.36 227.94 142.45 251.69 142.53 271.43M145.97 60.03 146.05 60.03 146.13 60.04 146.22 60.04 146.30 60.04 146.39 60.05 146.47 60.06 146.55 60.07 146.64 60.08 146.72 60.09 146.81 60.11 146.89 74.14 146.97 97.75 147.06 122.08 147.14 146.89 147.22 171.89 147.31 196.83 147.39 221.43 147.48 245.41 147.56 268.53 147.64 270.88 147.73 270.90 147.81 270.93 147.89 270.96 147.98 270.99 148.06 271.02 148.15 271.06 148.23 271.09 148.31 271.12 148.40 271.15 148.48 271.19 148.56 271.22 148.65 271.25 148.73 271.29 148.82 271.32 148.90 271.35 148.98 271.39 149.07 271.42 149.15 271.45 149.23 271.48 149.32 271.52M150.16 61.23 150.24 61.25 150.32 61.27 150.41 61.29 150.49 61.31 150.58 61.33 150.66 61.34 150.74 61.35 150.83 61.37 150.91 61.38 150.99 61.39 151.08 61.39 151.16 61.40 151.25 61.41 151.33 61.41 151.41 61.41 151.50 61.41M151.83 61.40 151.92 69.87 152.00 93.23 152.08 117.39 152.17 142.08 152.25 167.03 152.33 191.98 152.42 216.64 152.50 240.76 152.59 264.07 152.67 271.85M155.69 60.84 155.77 60.84 155.85 60.84 155.94 60.84 156.02 60.85 156.10 60.85 156.19 60.86 156.27 60.86 156.36 60.87 156.44 60.88 156.52 60.89 156.61 60.90 156.69 60.91 156.77 60.92 156.86 60.94 156.94 63.94 157.03 87.09 157.11 111.10 157.19 135.71 157.28 160.65 157.36 185.65 157.45 210.43 157.53 234.73 157.61 258.29 157.70 271.63 157.78 271.65 157.86 271.66 157.95 271.68 158.03 271.69 158.12 271.70 158.20 271.72 158.28 271.73 158.37 271.74 158.45 271.76 158.53 271.77 158.62 271.78 158.70 271.79 158.79 271.80 158.87 271.81 158.95 271.81 159.04 271.82 159.12 271.83 159.20 271.83 159.29 271.83 159.37 271.83M161.97 60.75 162.05 81.18 162.14 104.97 162.22 129.41 162.30 154.25 162.39 179.21 162.47 204.02 162.56 228.42 162.64 252.13 162.72 271.02M165.24 60.03 165.32 60.04 165.40 60.05 165.49 60.06 165.57 60.07 165.66 60.08 165.74 60.10 165.82 60.12 165.91 60.13 165.99 60.15 166.07 60.18 166.16 60.20 166.24 60.22 166.33 60.24 166.41 60.27 166.49 60.29 166.58 60.32 166.66 60.35 166.74 60.38 166.83 60.41 166.91 60.44 167.00 60.47 167.08 75.35 167.16 99.00 167.25 123.37 167.33 148.20 167.41 173.22 167.50 198.15 167.58 222.74 167.67 246.70 167.75 269.79 167.83 271.32 167.92 271.35 168.00 271.38 168.09 271.41 168.17 271.44 168.25 271.46 168.34 271.49 168.42 271.52 168.50 271.54 168.59 271.56 168.67 271.59 168.76 271.61 168.84 271.63 168.92 271.65 169.01 271.67 169.09 271.69 169.17 271.70 169.26 271.72 169.34 271.73 169.43 271.74 169.51 271.75M171.69 61.09 171.77 72.69 171.86 84.33 171.94 96.28 172.02 108.40 172.11 120.54 172.19 132.56 172.27 144.34 172.36 155.74 172.44 166.68 172.53 177.03 172.61 186.73 172.69 195.68 172.78 203.84 172.86 211.14 172.94 217.56 173.03 223.06 173.11 227.63 173.20 231.27 173.28 233.99 173.36 235.79 173.45 236.72 173.53 236.80M176.04 134.42 176.13 134.72 176.21 135.36 176.30 136.31 176.38 137.56 176.46 139.06 176.55 140.80 176.63 142.73 176.71 144.82 176.80 147.06 176.88 149.39 176.97 151.79 177.05 154.24 177.13 156.69 177.22 159.13 177.30 161.52 177.38 163.84 177.47 166.08 177.55 168.20 177.64 170.19 177.72 172.03 177.80 173.71 177.89 175.23 177.97 176.57 178.06 177.72 178.14 178.69 178.22 179.46 178.31 180.05 178.39 180.46 178.47 180.68 178.56 180.73M181.07 159.40 181.15 159.41 181.24 159.48 181.32 159.62 181.41 159.82 181.49 160.08 181.57 160.38 181.66 160.72 181.74 161.10 181.83 161.51 181.91 161.94 181.99 162.38 182.08 162.84 182.16 163.30 182.24 163.77 182.33 164.22 182.41 164.67 182.50 165.09 182.58 165.50 182.66 165.89 182.75 166.24 182.83 166.57 182.91 166.87 183.00 167.13 183.08 167.35 183.17 167.55 183.25 167.70 183.33 167.82 183.42 167.91 183.50 167.96 183.58 167.97M220.36 164.64 220.45 164.65 220.53 164.67 220.62 164.71 220.70 164.75 220.78 164.81 220.87 164.88 220.95 164.95 221.03 165.03 221.12 165.14 221.20 165.26 221.29 165.40 221.37 165.55 221.45 165.71 221.54 165.89 221.62 166.07 221.70 166.26 221.79 166.45 221.87 166.65 221.96 166.83 222.04 167.02 222.12 167.19 222.21 167.36 222.29 167.50 222.37 167.63 222.46 167.74 222.54 167.83 222.63 167.89 222.71 167.92 222.79 167.92M225.14 161.55 225.22 161.57 225.31 161.64 225.39 161.75 225.47 161.92 225.56 162.14 225.64 162.41 225.73 162.70 225.81 163.03 225.89 163.40 225.98 163.83 226.06 164.30 226.14 164.81 226.23 165.36 226.31 165.93 226.40 166.54 226.48 167.16 226.56 167.79 226.65 168.42 226.73 169.05 226.81 169.67 226.90 170.26 226.98 170.83 227.07 171.35 227.15 171.83 227.23 172.26 227.32 172.62 227.40 172.92 227.49 173.15 227.57 173.29 227.65 173.36M230.17 154.10 230.25 154.17 230.33 154.36 230.42 154.65 230.50 155.08 230.59 155.64 230.67 156.32 230.75 157.14 230.84 158.07 230.92 159.12 231.00 160.27 231.09 161.51 231.17 162.83 231.26 164.22 231.34 165.66 231.42 167.14 231.51 168.64 231.59 170.14 231.67 171.64 231.76 173.10 231.84 174.52 231.93 175.88 232.01 177.15 232.09 178.33 232.18 179.40 232.26 180.34 232.34 181.14 232.43 181.79 232.51 182.28 232.60 182.60 232.68 182.74M235.19 145.28 235.28 145.38 235.36 145.72 235.44 146.25 235.53 147.01 235.61 148.00 235.70 149.22 235.78 150.65 235.86 152.29 235.95 154.13 236.03 156.14 236.11 158.30 236.20 160.60 236.28 163.00 236.37 165.49 236.45 168.03 236.53 170.61 236.62 173.18 236.70 175.73 236.78 178.21 236.87 180.61 236.95 182.90 237.04 185.03 237.12 187.00 237.20 188.77 237.29 190.31 237.37 191.62 237.46 192.67 237.54 193.44 237.62 193.91 237.71 194.09M240.22 130.57 240.30 130.71 240.39 131.23 240.47 132.14 240.55 133.44 240.64 135.10 240.72 137.12 240.81 139.48 240.89 142.16 240.97 145.12 241.06 148.35 241.14 151.81 241.23 155.47 241.31 159.28 241.39 163.20 241.48 167.20 241.56 171.23 241.64 175.25 241.73 179.20 241.81 183.06 241.90 186.77 241.98 190.29 242.06 193.58 242.15 196.60 242.23 199.31 242.31 201.69 242.40 203.70 242.48 205.31 242.57 206.51 242.65 207.27 242.73 207.59M245.25 117.36 245.33 117.54 245.41 118.24 245.50 119.47 245.58 121.21 245.67 123.45 245.75 126.17 245.83 129.35 245.92 132.94 246.00 136.91 246.08 141.23 246.17 145.84 246.25 150.71 246.34 155.77 246.42 160.97 246.50 166.26 246.59 171.58 246.67 176.88 246.75 182.08 246.84 187.14 246.92 192.00 247.01 196.60 247.09 200.90 247.17 204.84 247.26 208.37 247.34 211.46 247.42 214.07 247.51 216.16 247.59 217.71 247.68 218.71 247.76 219.12M250.27 106.59 250.36 106.75 250.44 107.58 250.52 109.06 250.61 111.18 250.69 113.89 250.78 117.19 250.86 121.04 250.94 125.39 251.03 130.20 251.11 135.43 251.19 141.01 251.28 146.89 251.36 153.01 251.45 159.29 251.53 165.68 251.61 172.10 251.70 178.49 251.78 184.76 251.87 190.87 251.95 196.73 252.03 202.28 252.12 207.47 252.20 212.23 252.28 216.51 252.37 220.27 252.45 223.45 252.54 226.02 252.62 227.96 252.70 229.23 252.79 229.83M255.30 99.33 255.38 99.34 255.47 100.08 255.55 101.58 255.64 103.80 255.72 106.69 255.80 110.25 255.89 114.42 255.97 119.17 256.05 124.44 256.14 130.18 256.22 136.33 256.31 142.81 256.39 149.57 256.47 156.52 256.56 163.60 256.64 170.72 256.72 177.81 256.81 184.79 256.89 191.58 256.98 198.11 257.06 204.30 257.14 210.10 257.23 215.43 257.31 220.23 257.39 224.45 257.48 228.05 257.56 230.98 257.65 233.21 257.73 234.71 257.81 235.46M260.41 93.53 260.49 94.28 260.58 95.81 260.66 98.10 260.75 101.13 260.83 104.87 260.91 109.27 261.00 114.30 261.08 119.89 261.16 125.99 261.25 132.52 261.33 139.43 261.42 146.64 261.50 154.06 261.58 161.61 261.67 169.22 261.75 176.81 261.84 184.28 261.92 191.56 262.00 198.57 262.09 205.23 262.17 211.47 262.25 217.23 262.34 222.43 262.42 227.02 262.51 230.95 262.59 234.18 262.67 236.66 262.76 238.39 262.84 239.32 262.92 239.46M265.44 90.73 265.52 91.30 265.61 92.68 265.69 94.84 265.77 97.78 265.86 101.45 265.94 105.82 266.02 110.83 266.11 116.44 266.19 122.58 266.28 129.19 266.36 136.19 266.44 143.52 266.53 151.08 266.61 158.80 266.69 166.59 266.78 174.37 266.86 182.06 266.95 189.57 267.03 196.81 267.11 203.72 267.20 210.21 267.28 216.21 267.36 221.66 267.45 226.51 267.53 230.69 267.62 234.16 267.70 236.88 267.78 238.83 267.87 239.98 267.95 240.32M270.46 90.89 270.55 91.37 270.63 92.65 270.72 94.74 270.80 97.60 270.88 101.20 270.97 105.51 271.05 110.47 271.13 116.04 271.22 122.14 271.30 128.73 271.39 135.71 271.47 143.02 271.55 150.58 271.64 158.30 271.72 166.10 271.80 173.90 271.89 181.61 271.97 189.15 272.06 196.44 272.14 203.39 272.22 209.94 272.31 216.00 272.39 221.53 272.48 226.45 272.56 230.71 272.64 234.27 272.73 237.09 272.81 239.15 272.89 240.41 272.98 240.86M275.49 92.80 275.57 93.02 275.66 94.04 275.74 95.84 275.83 98.44 275.91 101.80 275.99 105.85 276.08 110.53 276.16 115.80 276.25 121.60 276.33 127.87 276.41 134.52 276.50 141.50 276.58 148.72 276.66 156.11 276.75 163.58 276.83 171.05 276.92 178.44 277.00 185.67 277.08 192.67 277.17 199.35 277.25 205.65 277.33 211.49 277.42 216.83 277.50 221.59 277.59 225.74 277.67 229.22 277.75 232.00 277.84 234.06 277.92 235.37 278.00 235.92M280.52 99.59 280.60 99.72 280.69 100.56 280.77 102.11 280.85 104.36 280.94 107.29 281.02 110.84 281.10 114.98 281.19 119.66 281.27 124.82 281.36 130.40 281.44 136.35 281.52 142.59 281.61 149.06 281.69 155.68 281.77 162.39 281.86 169.10 281.94 175.75 282.03 182.27 282.11 188.57 282.19 194.61 282.28 200.30 282.36 205.60 282.44 210.44 282.53 214.77 282.61 218.55 282.70 221.74 282.78 224.31 282.86 226.23 282.95 227.49 283.03 228.07M285.54 107.04 285.63 107.04 285.71 107.67 285.80 108.92 285.88 110.78 285.96 113.22 286.05 116.22 286.13 119.73 286.22 123.76 286.30 128.23 286.38 133.07 286.47 138.21 286.55 143.62 286.63 149.21 286.72 154.94 286.80 160.73 286.89 166.52 286.97 172.26 287.05 177.88 287.14 183.31 287.22 188.51 287.30 193.41 287.39 197.97 287.47 202.14 287.56 205.88 287.64 209.15 287.72 211.91 287.81 214.15 287.89 215.85 287.97 216.99 288.06 217.56 288.14 217.56M290.57 121.36 290.66 121.36 290.74 121.86 290.82 122.83 290.91 124.26 290.99 126.14 291.07 128.44 291.16 131.12 291.24 134.16 291.33 137.53 291.41 141.17 291.49 145.04 291.58 149.11 291.66 153.32 291.74 157.62 291.83 161.97 291.91 166.32 292.00 170.62 292.08 174.83 292.16 178.90 292.25 182.78 292.33 186.44 292.41 189.84 292.50 192.94 292.58 195.72 292.67 198.14 292.75 200.19 292.83 201.85 292.92 203.10 293.00 203.93 293.08 204.34M295.68 134.77 295.77 135.11 295.85 135.78 295.93 136.77 296.02 138.06 296.10 139.64 296.18 141.48 296.27 143.56 296.35 145.86 296.44 148.33 296.52 150.97 296.60 153.71 296.69 156.54 296.77 159.44 296.86 162.37 296.94 165.31 297.02 168.21 297.11 171.05 297.19 173.80 297.27 176.43 297.36 178.91 297.44 181.22 297.53 183.33 297.61 185.23 297.69 186.89 297.78 188.30 297.86 189.45 297.94 190.33 298.03 190.94 298.11 191.27 298.20 191.32M300.71 146.73 300.79 146.91 300.88 147.29 300.96 147.87 301.04 148.63 301.13 149.57 301.21 150.66 301.30 151.90 301.38 153.27 301.46 154.75 301.55 156.32 301.63 157.95 301.71 159.61 301.80 161.32 301.88 163.05 301.97 164.79 302.05 166.51 302.13 168.20 302.22 169.83 302.30 171.40 302.38 172.88 302.47 174.26 302.55 175.52 302.64 176.66 302.72 177.66 302.80 178.51 302.89 179.20 302.97 179.73 303.05 180.10 303.14 180.31 303.22 180.34M305.74 153.68 305.82 153.79 305.90 154.04 305.99 154.40 306.07 154.87 306.15 155.45 306.24 156.13 306.32 156.90 306.41 157.75 306.49 158.65 306.57 159.61 306.66 160.61 306.74 161.65 306.82 162.72 306.91 163.80 306.99 164.88 307.08 165.96 307.16 167.01 307.24 168.04 307.33 169.02 307.41 169.95 307.50 170.82 307.58 171.62 307.66 172.34 307.75 172.98 307.83 173.54 307.91 173.99 308.00 174.36 308.08 174.62 308.17 174.78 308.25 174.85M310.76 160.00 310.85 160.04 310.93 160.15 311.01 160.32 311.10 160.55 311.18 160.83 311.27 161.15 311.35 161.52 311.43 161.93 311.52 162.38 311.60 162.86 311.68 163.37 311.77 163.89 311.85 164.42 311.94 164.96 312.02 165.50 312.10 166.03 312.19 166.55 312.27 167.05 312.35 167.53 312.44 167.97 312.52 168.39 312.61 168.76 312.69 169.10 312.77 169.39 312.86 169.64 312.94 169.84 313.02 169.99 313.11 170.09 313.19 170.14 313.28 170.14M315.62 163.96 315.71 163.98 315.79 164.03 315.87 164.11 315.96 164.21 316.04 164.33 316.12 164.47 316.21 164.62 316.29 164.77 316.38 164.94 316.46 165.11 316.54 165.29 316.63 165.47 316.71 165.66 316.79 165.84 316.88 166.02 316.96 166.20 317.05 166.36 317.13 166.52 317.21 166.66 317.30 166.80 317.38 166.91 317.46 167.02 317.55 167.10 317.63 167.17 317.72 167.22 317.80 167.26 317.88 167.27 317.97 167.28M349.05 162.34 349.13 162.35 349.22 162.41 349.30 162.49 349.39 162.62 349.47 162.79 349.55 162.99 349.64 163.22 349.72 163.49 349.80 163.78 349.89 164.11 349.97 164.45 350.06 164.82 350.14 165.20 350.22 165.59 350.31 165.99 350.39 166.40 350.47 166.80 350.56 167.20 350.64 167.59 350.73 167.96 350.81 168.32 350.89 168.65 350.98 168.95 351.06 169.23 351.14 169.47 351.23 169.67 351.31 169.83 351.40 169.95 351.48 170.03 351.56 170.06M354.08 161.34 354.16 161.39 354.24 161.50 354.33 161.66 354.41 161.88 354.50 162.15 354.58 162.48 354.66 162.85 354.75 163.27 354.83 163.73 354.91 164.23 355.00 164.76 355.08 165.32 355.17 165.90 355.25 166.49 355.33 167.10 355.42 167.70 355.50 168.30 355.58 168.89 355.67 169.47 355.75 170.01 355.84 170.53 355.92 171.01 356.00 171.45 356.09 171.84 356.17 172.17 356.26 172.45 356.34 172.66 356.42 172.81 356.51 172.90 356.59 172.91M359.10 158.24 359.19 158.27 359.27 158.39 359.35 158.58 359.44 158.85 359.52 159.20 359.61 159.61 359.69 160.10 359.77 160.65 359.86 161.26 359.94 161.91 360.03 162.61 360.11 163.35 360.19 164.11 360.28 164.90 360.36 165.69 360.44 166.49 360.53 167.27 360.61 168.05 360.70 168.80 360.78 169.51 360.86 170.19 360.95 170.82 361.03 171.39 361.11 171.90 361.20 172.34 361.28 172.71 361.37 173.01 361.45 173.22 361.53 173.35 361.62 173.39M364.13 157.27 364.21 157.33 364.30 157.48 364.38 157.72 364.47 158.05 364.55 158.46 364.63 158.96 364.72 159.53 364.80 160.18 364.88 160.89 364.97 161.66 365.05 162.47 365.14 163.33 365.22 164.22 365.30 165.13 365.39 166.05 365.47 166.97 365.55 167.88 365.64 168.78 365.72 169.65 365.81 170.48 365.89 171.26 365.97 171.98 366.06 172.65 366.14 173.24 366.22 173.75 366.31 174.17 366.39 174.51 366.48 174.75 366.56 174.90 366.64 174.95M369.16 155.73 369.24 155.78 369.32 155.93 369.41 156.18 369.49 156.54 369.58 157.00 369.66 157.55 369.74 158.19 369.83 158.92 369.91 159.72 370.00 160.58 370.08 161.51 370.16 162.48 370.25 163.49 370.33 164.53 370.41 165.58 370.50 166.64 370.58 167.69 370.67 168.72 370.75 169.72 370.83 170.68 370.92 171.60 371.00 172.45 371.08 173.23 371.17 173.94 371.25 174.56 371.34 175.09 371.42 175.52 371.50 175.85 371.59 176.07 371.67 176.19 371.75 176.19M374.18 156.33 374.27 156.35 374.35 156.48 374.44 156.72 374.52 157.07 374.60 157.52 374.69 158.08 374.77 158.72 374.85 159.45 374.94 160.26 375.02 161.14 375.11 162.08 375.19 163.07 375.27 164.10 375.36 165.16 375.44 166.23 375.52 167.31 375.61 168.38 375.69 169.43 375.78 170.45 375.86 171.43 375.94 172.35 376.03 173.21 376.11 174.00 376.19 174.70 376.28 175.32 376.36 175.84 376.45 176.25 376.53 176.56 376.61 176.75 376.70 176.84M379.29 154.67 379.38 154.78 379.46 155.01 379.55 155.35 379.63 155.80 379.71 156.36 379.80 157.02 379.88 157.78 379.96 158.62 380.05 159.54 380.13 160.52 380.22 161.56 380.30 162.65 380.38 163.77 380.47 164.91 380.55 166.05 380.64 167.20 380.72 168.33 380.80 169.43 380.89 170.49 380.97 171.50 381.05 172.44 381.14 173.31 381.22 174.10 381.31 174.80 381.39 175.40 381.47 175.90 381.56 176.29 381.64 176.56 381.72 176.71 381.81 176.74M384.32 154.78 384.41 154.85 384.49 155.04 384.57 155.34 384.66 155.76 384.74 156.29 384.82 156.92 384.91 157.65 384.99 158.47 385.08 159.37 385.16 160.33 385.24 161.36 385.33 162.43 385.41 163.54 385.49 164.68 385.58 165.83 385.66 166.97 385.75 168.11 385.83 169.21 385.91 170.28 386.00 171.30 386.08 172.26 386.16 173.15 386.25 173.95 386.33 174.67 386.42 175.28 386.50 175.79 386.58 176.19 386.67 176.48 386.75 176.64 386.83 176.68M389.35 154.06 389.43 154.16 389.52 154.39 389.60 154.74 389.68 155.20 389.77 155.79 389.85 156.48 389.93 157.27 390.02 158.15 390.10 159.11 390.19 160.15 390.27 161.25 390.35 162.40 390.44 163.58 390.52 164.79 390.60 166.01 390.69 167.22 390.77 168.43 390.86 169.60 390.94 170.74 391.02 171.82 391.11 172.84 391.19 173.79 391.28 174.66 391.36 175.43 391.44 176.10 391.53 176.66 391.61 177.11 391.69 177.44 391.78 177.65 391.86 177.74M394.38 155.67 394.46 155.69 394.54 155.83 394.63 156.08 394.71 156.46 394.79 156.94 394.88 157.53 394.96 158.20 395.05 158.97 395.13 159.81 395.21 160.71 395.30 161.67 395.38 162.68 395.46 163.72 395.55 164.78 395.63 165.85 395.72 166.92 395.80 167.98 395.88 169.01 395.97 170.00 396.05 170.95 396.13 171.84 396.22 172.66 396.30 173.41 396.39 174.07 396.47 174.64 396.55 175.11 396.64 175.49 396.72 175.75 396.80 175.91 396.89 175.96M399.40 156.45 399.49 156.49 399.57 156.63 399.65 156.87 399.74 157.21 399.82 157.64 399.90 158.16 399.99 158.76 400.07 159.43 400.16 160.17 400.24 160.96 400.32 161.80 400.41 162.68 400.49 163.59 400.57 164.52 400.66 165.45 400.74 166.39 400.83 167.31 400.91 168.21 400.99 169.08 401.08 169.91 401.16 170.69 401.24 171.41 401.33 172.07 401.41 172.66 401.50 173.16 401.58 173.59 401.66 173.93 401.75 174.18 401.83 174.34 401.92 174.41M404.51 158.09 404.60 158.16 404.68 158.31 404.76 158.53 404.85 158.82 404.93 159.19 405.02 159.62 405.10 160.11 405.18 160.65 405.27 161.25 405.35 161.88 405.43 162.54 405.52 163.24 405.60 163.94 405.69 164.66 405.77 165.39 405.85 166.10 405.94 166.80 406.02 167.48 406.10 168.13 406.19 168.75 406.27 169.32 406.36 169.85 406.44 170.32 406.52 170.73 406.61 171.09 406.69 171.37 406.77 171.59 406.86 171.74 406.94 171.82 407.03 171.83M409.46 160.20 409.54 160.23 409.62 160.32 409.71 160.48 409.79 160.69 409.87 160.96 409.96 161.29 410.04 161.67 410.13 162.09 410.21 162.55 410.29 163.05 410.38 163.57 410.46 164.13 410.54 164.70 410.63 165.28 410.71 165.87 410.80 166.45 410.88 167.03 410.96 167.60 411.05 168.15 411.13 168.68 411.21 169.17 411.30 169.63 411.38 170.05 411.47 170.43 411.55 170.76 411.63 171.04 411.72 171.27 411.80 171.44 411.89 171.56 411.97 171.62 412.05 171.63M414.57 161.92 414.65 161.94 414.73 162.00 414.82 162.10 414.90 162.24 414.98 162.42 415.07 162.64 415.15 162.90 415.24 163.18 415.32 163.50 415.40 163.84 415.49 164.20 415.57 164.58 415.66 164.97 415.74 165.37 415.82 165.77 415.91 166.17 415.99 166.56 416.07 166.95 416.16 167.32 416.24 167.67 416.33 168.00 416.41 168.31 416.49 168.59 416.58 168.83 416.66 169.05 416.74 169.22 416.83 169.36 416.91 169.46 417.00 169.53 417.08 169.55M419.59 162.93 419.68 162.95 419.76 163.01 419.84 163.10 419.93 163.22 420.01 163.37 420.10 163.55 420.18 163.76 420.26 163.98 420.35 164.23 420.43 164.50 420.51 164.78 420.60 165.07 420.68 165.37 420.77 165.67 420.85 165.98 420.93 166.28 421.02 166.57 421.10 166.86 421.18 167.13 421.27 167.39 421.35 167.63 421.44 167.85 421.52 168.04 421.60 168.21 421.69 168.36 421.77 168.47 421.85 168.56 421.94 168.61 422.02 168.64M424.70 162.83 424.79 162.85 424.87 162.89 424.95 162.95 425.04 163.04 425.12 163.16 425.21 163.30 425.29 163.45 425.37 163.63 425.46 163.82 425.54 164.03 425.62 164.25 425.71 164.48 425.79 164.72 425.88 164.97 425.96 165.22 426.04 165.46 426.13 165.71 426.21 165.95 426.30 166.18 426.38 166.40 426.46 166.61 426.55 166.81 426.63 166.99 426.71 167.15 426.80 167.30 426.88 167.42 426.97 167.52 427.05 167.60 427.13 167.66 427.22 167.69 427.30 167.70M429.65 164.28 429.73 164.29 429.81 164.33 429.90 164.39 429.98 164.47 430.07 164.56 430.15 164.68 430.23 164.81 430.32 164.96 430.40 165.12 430.48 165.29 430.57 165.48 430.65 165.67 430.74 165.87 430.82 166.07 430.90 166.27 430.99 166.48 431.07 166.68 431.15 166.87 431.24 167.06 431.32 167.24 431.41 167.41 431.49 167.56 431.57 167.70 431.66 167.83 431.74 167.93 431.82 168.02 431.91 168.09 431.99 168.14 432.08 168.17 432.16 168.18M490.30 161.92 490.39 161.93 490.47 161.98 490.55 162.07 490.64 162.20 490.72 162.37 490.81 162.58 490.89 162.82 490.97 163.11 491.06 163.43 491.14 163.78 491.22 164.16 491.31 164.57 491.39 165.00 491.48 165.45 491.56 165.92 491.64 166.40 491.73 166.89 491.81 167.39 491.89 167.88 491.98 168.37 492.06 168.84 492.15 169.30 492.23 169.75 492.31 170.16 492.40 170.55 492.48 170.90 492.57 171.21 492.65 171.49 492.73 171.71 492.82 171.89 492.90 172.01 492.98 172.08 493.07 172.09M495.67 157.42 495.75 157.43 495.83 157.52 495.92 157.71 496.00 158.00 496.08 158.38 496.17 158.85 496.25 159.41 496.34 160.06 496.42 160.79 496.50 161.61 496.59 162.50 496.67 163.45 496.75 164.47 496.84 165.53 496.92 166.64 497.01 167.79 497.09 168.95 497.17 170.12 497.26 171.30 497.34 172.46 497.42 173.59 497.51 174.69 497.59 175.74 497.68 176.73 497.76 177.65 497.84 178.48 497.93 179.21 498.01 179.83 498.09 180.34 498.18 180.73 498.26 180.97 498.35 181.08" fill="none" stroke="#0000ff" stroke-opacity="0.58" stroke-width="1.95" stroke-linejoin="round" stroke-linecap="round" filter="url(#bl)"/>
<path d="M116.6 166V62M136.5 61.5V80M157.2 61.5V100M161.8 61.5V74M167.3 62V272.5M169.8 62V272M118 230V272M123.4 259V272M128 264V272M148.8 253V272M141 61.5V68M146 61.5V67M131 61.5V67M152 61.5V68M133.5 267V272.5M138.6 267V272.5M143.7 268V272.5M153.8 267V272.5M158.9 266V272.5M163.9 262V272.5" fill="none" stroke="#0000e8" stroke-opacity="0.6" stroke-width="1.7" filter="url(#bl)"/>
<rect x="216" y="57.75" width="97.4" height="217.5" fill="none" stroke="#e68f4c" stroke-width="3"/>
<path d="M80.20 10.50H499.10V323.20H80.20ZM122.09 323.20v-4.5M122.09 10.50v4.5M163.98 323.20v-4.5M163.98 10.50v4.5M205.87 323.20v-4.5M205.87 10.50v4.5M247.76 323.20v-4.5M247.76 10.50v4.5M289.65 323.20v-4.5M289.65 10.50v4.5M331.54 323.20v-4.5M331.54 10.50v4.5M373.43 323.20v-4.5M373.43 10.50v4.5M415.32 323.20v-4.5M415.32 10.50v4.5M457.21 323.20v-4.5M457.21 10.50v4.5M80.20 62.62h4.5M499.10 62.62h-4.5M80.20 114.73h4.5M499.10 114.73h-4.5M80.20 166.85h4.5M499.10 166.85h-4.5M80.20 218.97h4.5M499.10 218.97h-4.5M80.20 271.08h4.5M499.10 271.08h-4.5" fill="none" stroke="#2a2a2a" stroke-width="1.2"/>
<text x="75.3" y="16.50" font-size="20" text-anchor="end">1.5</text>
<text x="75.3" y="68.62" font-size="20" text-anchor="end">1.0</text>
<text x="75.3" y="120.73" font-size="20" text-anchor="end">0.5</text>
<text x="75.3" y="172.85" font-size="20" text-anchor="end">0</text>
<text x="75.3" y="224.97" font-size="20" text-anchor="end">-0.5</text>
<text x="75.3" y="277.08" font-size="20" text-anchor="end">-1.0</text>
<text x="75.3" y="329.20" font-size="20" text-anchor="end">-1.5</text>
<text x="80.30" y="347.5" font-size="20" text-anchor="middle">0</text>
<text x="162.30" y="347.5" font-size="20" text-anchor="middle">20</text>
<text x="242.80" y="347.5" font-size="20" text-anchor="middle">40</text>
<text x="330.80" y="347.5" font-size="20" text-anchor="middle">60</text>
<text x="418.50" y="347.5" font-size="20" text-anchor="middle">80</text>
<text x="500.00" y="347.5" font-size="20" text-anchor="middle">100</text>
<text x="300.3" y="372.5" font-size="20.5" text-anchor="middle">Time (<tspan class="s" font-size="21">μ</tspan>s)</text>
<text transform="translate(33.2 167.8) rotate(-90)" font-size="20.5" text-anchor="middle">Amplitude (v)</text>
</g>
<g id="p2">
<path d="M69.50 419.40H515.40V664.00H69.50Z" fill="none" stroke="#9a9a9a" stroke-width="1"/>
<path d="M69.50 661.80v-2.5M69.50 421.60v2.5M143.82 661.80v-2.5M143.82 421.60v2.5M218.13 661.80v-2.5M218.13 421.60v2.5M292.45 661.80v-2.5M292.45 421.60v2.5M366.77 661.80v-2.5M366.77 421.60v2.5M441.08 661.80v-2.5M441.08 421.60v2.5M515.40 661.80v-2.5M515.40 421.60v2.5M72.40 664.00h2.6M513.60 664.00h-2.6M72.40 615.08h2.6M513.60 615.08h-2.6M72.40 566.16h2.6M513.60 566.16h-2.6M72.40 517.24h2.6M513.60 517.24h-2.6M72.40 468.32h2.6M513.60 468.32h-2.6M72.40 419.40h2.6M513.60 419.40h-2.6" fill="none" stroke="#333" stroke-width="1"/>
<polyline points="69.5,662.3 74.5,662.9 83.5,663.8 147.6,663.8 153.0,663.0 167.8,660.2 172.0,657.0 175.2,660.9 177.2,656.8 178.0,647.8 179.2,633.7 180.2,619.7 181.5,603.6 182.6,583.6 183.9,563.5 185.0,543.5 186.2,523.4 187.3,503.4 188.0,493.3 189.0,483.3 190.3,474.3 191.1,467.3 191.6,464.5 192.2,463.2 192.8,464.5 193.4,467.3 194.3,474.3 195.8,483.3 197.0,493.3 197.9,503.4 199.4,523.4 200.6,543.5 201.7,563.5 203.0,583.6 204.1,603.6 205.4,619.7 206.4,633.7 207.6,647.8 208.4,656.8 211.2,662.1 214.3,658.7 217.6,661.6 221.7,663.4 227.6,663.8 515.4,663.8" fill="none" stroke="#0000f5" stroke-width="3.5" stroke-linejoin="round" stroke-linecap="butt"/>
<polyline points="69.5,661.1 74.5,662.1 83.5,663.6 147.6,663.6 153.0,663.2 167.8,661.5 172.0,659.6 175.2,661.9 177.2,657.4 178.0,649.5 179.2,637.1 180.2,624.8 181.5,610.7 182.6,593.0 183.9,575.4 185.0,557.7 186.2,540.1 187.3,522.4 188.0,513.6 189.0,504.8 190.3,496.9 191.1,490.7 191.6,488.2 192.2,487.1 192.8,488.2 193.4,490.7 194.3,496.9 195.8,504.8 197.0,513.6 197.9,522.4 199.4,540.1 200.6,557.7 201.7,575.4 203.0,593.0 204.1,610.7 205.4,624.8 206.4,637.1 207.6,649.5 208.4,657.4 211.2,661.0 214.3,655.8 217.6,660.2 221.7,662.9 227.6,663.6 515.4,663.6" fill="none" stroke="#f0001a" stroke-width="3.5" stroke-linejoin="round" stroke-linecap="butt"/>
<polyline points="69.5,659.3 74.5,660.9 83.5,663.3 147.6,663.3 153.0,662.9 167.8,661.4 172.0,659.7 175.2,661.8 177.2,658.1 178.0,651.3 179.2,640.9 180.2,630.4 181.5,618.4 182.6,603.4 183.9,588.5 185.0,573.5 186.2,558.5 187.3,543.6 188.0,536.1 189.0,528.6 190.3,521.9 191.1,516.6 191.6,514.5 192.2,513.6 192.8,514.5 193.4,516.6 194.3,521.9 195.8,528.6 197.0,536.1 197.9,543.6 199.4,558.5 200.6,573.5 201.7,588.5 203.0,603.4 204.1,618.4 205.4,630.4 206.4,640.9 207.6,651.3 208.4,658.1 211.2,661.8 214.3,658.7 217.6,661.3 221.7,662.9 227.6,663.3 515.4,663.3" fill="none" stroke="#00f020" stroke-width="3.5" stroke-linejoin="round" stroke-linecap="butt"/>
<text x="64.5" y="426.20" font-size="20" text-anchor="end">0.25</text>
<text x="64.5" y="475.12" font-size="20" text-anchor="end">0.2</text>
<text x="64.5" y="524.04" font-size="20" text-anchor="end">0.15</text>
<text x="64.5" y="572.96" font-size="20" text-anchor="end">0.1</text>
<text x="64.5" y="621.88" font-size="20" text-anchor="end">0.05</text>
<text x="64.5" y="670.30" font-size="20" text-anchor="end">0</text>
<text x="70.00" y="689.4" font-size="20" text-anchor="middle">0</text>
<text x="143.32" y="689.4" font-size="20" text-anchor="middle">0.5</text>
<text x="215.93" y="689.4" font-size="20" text-anchor="middle">1</text>
<text x="291.95" y="689.4" font-size="20" text-anchor="middle">1.5</text>
<text x="367.27" y="689.4" font-size="20" text-anchor="middle">2</text>
<text x="441.58" y="689.4" font-size="20" text-anchor="middle">2.5</text>
<text x="515.90" y="689.4" font-size="20" text-anchor="middle">3</text>
<text x="296.7" y="714" font-size="21" text-anchor="middle">Frequency (MHz)</text>
<text transform="translate(16.2 538.3) rotate(-90)" font-size="21" text-anchor="middle">Amplitude</text>
<rect x="308.50" y="444.70" width="186.90" height="143.50" fill="#fff" stroke="#9a9a9a" stroke-width="1"/>
<polyline points="308.0,579.8 315.5,580.4 322.5,581.0 330.5,579.2 335.0,580.6 339.8,583.3 344.0,583.0 349.6,575.5 353.6,575.2 357.0,581.0 361.2,579.2 368.0,570.8 372.7,577.0 376.5,587.0 382.0,577.0 385.8,585.4 389.6,566.0 393.5,540.0 400.3,500.2 404.7,508.3 408.0,540.0 413.2,577.7 421.2,574.6 427.3,578.5 432.0,572.3 436.5,573.0 445.0,585.4 449.6,581.5 455.8,583.0 463.5,586.0 471.0,584.6 482.0,579.2 486.5,581.5 495.5,587.0" fill="none" stroke="#0000f5" stroke-width="2.8" stroke-linejoin="round"/>
<polyline points="308.0,586.0 311.0,578.0 317.3,572.3 324.8,579.8 332.8,584.4 342.0,582.7 347.8,585.2 353.6,586.0 361.0,583.0 367.3,580.8 381.0,560.8 390.4,572.3 395.0,540.0 399.6,500.2 404.3,491.4 409.0,520.0 414.0,553.0 417.3,555.4 422.4,547.7 427.0,560.0 431.2,573.0 435.8,572.3 440.4,576.0 448.0,581.5 455.8,583.0 463.5,587.0 474.2,583.8 483.5,572.3 488.0,570.0 492.0,571.5 495.5,576.0" fill="none" stroke="#f0001a" stroke-width="2.8" stroke-linejoin="round"/>
<polyline points="308.0,575.8 312.0,577.0 317.8,575.2 322.5,577.5 328.8,584.4 335.0,586.0 343.2,578.7 347.8,579.8 353.6,585.2 358.2,578.7 361.0,577.7 367.3,582.3 376.5,563.0 384.2,573.0 388.0,555.4 391.0,540.0 399.6,461.2 404.7,467.2 409.0,515.0 413.0,552.7 417.3,573.0 422.7,557.7 427.0,568.0 431.2,579.5 440.4,573.0 448.0,581.5 455.8,583.8 463.5,586.0 472.7,580.8 477.3,581.5 481.0,585.4 488.0,583.8 495.5,584.6" fill="none" stroke="#00f020" stroke-width="2.8" stroke-linejoin="round"/>
<path d="M309.5 492.2h2M309.5 540.2h2M402.7 587.2v-2M402.7 445.7v2M494.4 492.2h-2M494.4 540.2h-2" stroke="#666" stroke-width="1" fill="none"/>
<text x="304.5" y="453.70" font-size="20" text-anchor="end">3</text>
<text x="304.5" y="499.03" font-size="20" text-anchor="end">2</text>
<text x="304.5" y="546.87" font-size="20" text-anchor="end">1</text>
<text x="304.5" y="592.20" font-size="20" text-anchor="end">0</text>
<text x="309.50" y="613.2" font-size="20" text-anchor="middle">2</text>
<text x="402.00" y="613.2" font-size="20" text-anchor="middle">2.5</text>
<text x="495.80" y="613.2" font-size="20" text-anchor="middle">3</text>
<text class="s" x="308.3" y="440.8" font-size="13.6">x 10<tspan font-size="8.5" dy="-5.5" dx="-0.5">-4</tspan></text>
<polygon points="419,609.5 447.3,623.7 437.5,628.6 444.4,646.2 425.6,653.7 418.5,634.6 408.3,638.7" fill="#4472c4" stroke="#2f5597" stroke-width="1.2" stroke-linejoin="miter"/>
</g>
<g id="p3">
<path d="M84.75 980.00h4M84.75 950.88h4M84.75 921.75h4M84.75 892.62h4M84.75 863.50h4M84.75 834.38h4M84.75 805.25h4M84.75 776.12h4M84.75 747.00h4M83.75 981.00v3M164.15 981.00v3M244.55 981.00v3M324.95 981.00v3M405.35 981.00v3M485.75 981.00v3" fill="none" stroke="#b4b4b4" stroke-width="1"/>
<rect x="83.75" y="747.00" width="402.00" height="233.00" fill="none" stroke="#000" stroke-width="2.1"/>
<path d="M83.75 918.70v5.40M78.25 918.70h11M78.25 924.10h11" stroke="#000" stroke-width="2" fill="none"/><circle cx="83.75" cy="921.40" r="3.5" fill="#000"/>
<path d="M316.91 879.80v8.80M311.41 879.80h11M311.41 888.60h11" stroke="#000" stroke-width="2" fill="none"/><circle cx="316.91" cy="884.20" r="3.3" fill="#000"/>
<path d="M369.17 759.60v14.80M363.67 759.60h11M363.67 774.40h11" stroke="#000" stroke-width="2" fill="none"/><circle cx="369.17" cy="767.00" r="3.7" fill="#000"/>
<text x="75.5" y="986.50" font-size="20" text-anchor="end">0</text>
<text x="75.5" y="930.25" font-size="20" text-anchor="end">1</text>
<text x="75.5" y="872.00" font-size="20" text-anchor="end">2</text>
<text x="75.5" y="813.75" font-size="20" text-anchor="end">3</text>
<text x="75.5" y="758.00" font-size="20" text-anchor="end">4</text>
<text x="83.75" y="1005.3" font-size="20" text-anchor="middle">0</text>
<text x="161.65" y="1005.3" font-size="20" text-anchor="middle">0.2</text>
<text x="242.55" y="1005.3" font-size="20" text-anchor="middle">0.4</text>
<text x="324.15" y="1005.3" font-size="20" text-anchor="middle">0.6</text>
<text x="405.85" y="1005.3" font-size="20" text-anchor="middle">0.8</text>
<text x="485.75" y="1005.3" font-size="20" text-anchor="middle">1</text>
<text x="291.7" y="1039.2" font-size="20.7" text-anchor="middle">Damage Fraction</text>
<text transform="translate(46 947.8) rotate(-90)" font-size="20.6">Normalized A<tspan font-size="14" dy="4">3</tspan><tspan dy="-4">/A</tspan><tspan font-size="14" dy="4">1</tspan><tspan font-size="14" dy="-11.5" dx="1">3</tspan></text>
</g>
</svg></body></html>
